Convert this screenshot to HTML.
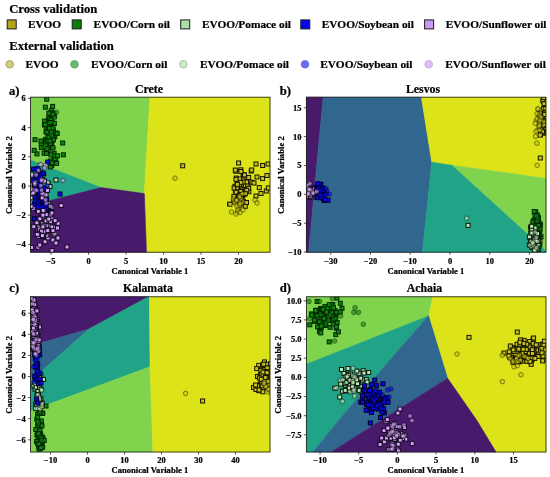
<!DOCTYPE html>
<html><head><meta charset="utf-8"><title>LDA decision regions</title>
<style>html,body{margin:0;padding:0;background:#fff}svg{display:block}text{fill:#000;stroke:#000;stroke-width:.22px}rect.s-evoo{fill:#c8c21a;stroke:#141400;stroke-width:1px}circle.c-evoo{fill:#c8c21a;stroke:#000;stroke-width:.7px;opacity:.62}rect.s-corn{fill:#0e860e;stroke:#032803;stroke-width:1px}circle.c-corn{fill:#0e860e;stroke:#000;stroke-width:.7px;opacity:.62}rect.s-pom{fill:#b6e8b2;stroke:#0a160a;stroke-width:1px}circle.c-pom{fill:#b6e8b2;stroke:#000;stroke-width:.7px;opacity:.62}rect.s-soy{fill:#0808f0;stroke:#000030;stroke-width:1px}circle.c-soy{fill:#0808f0;stroke:#000;stroke-width:.7px;opacity:.62}rect.s-sun{fill:#d3a2f8;stroke:#160a22;stroke-width:1px}circle.c-sun{fill:#d3a2f8;stroke:#000;stroke-width:.7px;opacity:.62}</style></head>
<body>
<svg width="550" height="477" viewBox="0 0 550 477" style="font-family:'Liberation Serif','DejaVu Serif',serif;font-weight:bold" fill="#111">
<rect width="550" height="477" fill="#fff"/>
<text x="9.2" y="12.7" font-size="12.7" text-anchor="start" >Cross validation</text>
<text x="9.2" y="50.1" font-size="12.7" text-anchor="start" >External validation</text>
<rect x="7.2" y="19.9" width="9" height="9" fill="#b3a41c" stroke="#1c1c1c" stroke-width="1"/>
<text x="28.0" y="28.2" font-size="11.35" text-anchor="start" >EVOO</text>
<rect x="72.2" y="19.9" width="9" height="9" fill="#0b7d0b" stroke="#1c1c1c" stroke-width="1"/>
<text x="93.6" y="28.2" font-size="11.35" text-anchor="start" >EVOO/Corn oil</text>
<rect x="180.7" y="19.9" width="9" height="9" fill="#a8e0a6" stroke="#1c1c1c" stroke-width="1"/>
<text x="202.0" y="28.2" font-size="11.35" text-anchor="start" >EVOO/Pomace oil</text>
<rect x="300.8" y="19.9" width="9" height="9" fill="#0505ee" stroke="#1c1c1c" stroke-width="1"/>
<text x="321.8" y="28.2" font-size="11.35" text-anchor="start" >EVOO/Soybean oil</text>
<rect x="424.6" y="19.9" width="9" height="9" fill="#cc99f4" stroke="#1c1c1c" stroke-width="1"/>
<text x="445.8" y="28.2" font-size="11.35" text-anchor="start" >EVOO/Sunflower oil</text>
<circle cx="9.7" cy="64.3" r="3.8" fill="#d2cc7c" stroke="#9a9660" stroke-width="0.8"/>
<text x="25.4" y="68.0" font-size="11.35" text-anchor="start" >EVOO</text>
<circle cx="74.5" cy="64.3" r="3.8" fill="#6cb86c" stroke="#5c9a5c" stroke-width="0.8"/>
<text x="91.0" y="68.0" font-size="11.35" text-anchor="start" >EVOO/Corn oil</text>
<circle cx="183.4" cy="64.3" r="3.8" fill="#cbe9c9" stroke="#9fb89f" stroke-width="0.8"/>
<text x="200.0" y="68.0" font-size="11.35" text-anchor="start" >EVOO/Pomace oil</text>
<circle cx="305.0" cy="64.3" r="3.8" fill="#6c6cf0" stroke="#6a6ae0" stroke-width="0.8"/>
<text x="320.3" y="68.0" font-size="11.35" text-anchor="start" >EVOO/Soybean oil</text>
<circle cx="428.7" cy="64.3" r="3.8" fill="#dcc0f6" stroke="#b7a3cc" stroke-width="0.8"/>
<text x="445.2" y="68.0" font-size="11.35" text-anchor="start" >EVOO/Sunflower oil</text>
<g>
<polygon points="30.5,97.2 150.0,97.2 144.3,193.6 101.0,187.6 30.5,160.0" fill="#80d34d" stroke="#80d34d" stroke-width="0.6" stroke-linejoin="round"/>
<polygon points="150.0,97.2 270.0,97.2 270.0,252.2 146.5,252.2 144.3,193.6" fill="#dce319" stroke="#dce319" stroke-width="0.6" stroke-linejoin="round"/>
<polygon points="30.5,160.0 101.0,187.6 30.5,205.5" fill="#20a386" stroke="#20a386" stroke-width="0.6" stroke-linejoin="round"/>
<polygon points="30.5,205.5 101.0,187.6 144.3,193.6 146.5,252.2 30.5,252.2" fill="#481a6c" stroke="#481a6c" stroke-width="0.6" stroke-linejoin="round"/>
</g>
<clipPath id="cp1"><rect x="30.5" y="97.2" width="239.5" height="155.0"/></clipPath>
<g clip-path="url(#cp1)">
<rect class="s-evoo" x="233.4" y="188.9" width="4.0" height="4.0"/>
<rect class="s-evoo" x="246.8" y="189.7" width="4.0" height="4.0"/>
<rect class="s-evoo" x="236.6" y="180.3" width="4.0" height="4.0"/>
<rect class="s-evoo" x="241.4" y="190.7" width="4.0" height="4.0"/>
<rect class="s-evoo" x="234.3" y="176.1" width="4.0" height="4.0"/>
<rect class="s-evoo" x="240.3" y="188.1" width="4.0" height="4.0"/>
<rect class="s-evoo" x="233.0" y="184.3" width="4.0" height="4.0"/>
<rect class="s-evoo" x="236.5" y="189.9" width="4.0" height="4.0"/>
<rect class="s-evoo" x="238.5" y="185.3" width="4.0" height="4.0"/>
<rect class="s-evoo" x="237.4" y="195.0" width="4.0" height="4.0"/>
<rect class="s-evoo" x="245.4" y="182.9" width="4.0" height="4.0"/>
<rect class="s-evoo" x="242.9" y="179.6" width="4.0" height="4.0"/>
<rect class="s-evoo" x="239.3" y="192.4" width="4.0" height="4.0"/>
<rect class="s-evoo" x="246.0" y="182.7" width="4.0" height="4.0"/>
<rect class="s-evoo" x="238.7" y="187.7" width="4.0" height="4.0"/>
<rect class="s-evoo" x="232.1" y="186.1" width="4.0" height="4.0"/>
<rect class="s-evoo" x="235.9" y="189.2" width="4.0" height="4.0"/>
<rect class="s-evoo" x="233.8" y="169.2" width="4.0" height="4.0"/>
<rect class="s-evoo" x="239.2" y="188.2" width="4.0" height="4.0"/>
<rect class="s-evoo" x="236.5" y="193.6" width="4.0" height="4.0"/>
<rect class="s-evoo" x="237.7" y="180.9" width="4.0" height="4.0"/>
<rect class="s-evoo" x="241.2" y="172.7" width="4.0" height="4.0"/>
<rect class="s-evoo" x="235.9" y="185.8" width="4.0" height="4.0"/>
<rect class="s-evoo" x="242.9" y="184.6" width="4.0" height="4.0"/>
<rect class="s-evoo" x="240.4" y="180.4" width="4.0" height="4.0"/>
<rect class="s-evoo" x="240.4" y="200.1" width="4.0" height="4.0"/>
<rect class="s-evoo" x="236.0" y="186.1" width="4.0" height="4.0"/>
<rect class="s-evoo" x="239.8" y="194.7" width="4.0" height="4.0"/>
<rect class="s-evoo" x="233.3" y="168.1" width="4.0" height="4.0"/>
<rect class="s-evoo" x="241.8" y="192.8" width="4.0" height="4.0"/>
<rect class="s-evoo" x="239.9" y="188.2" width="4.0" height="4.0"/>
<rect class="s-evoo" x="243.3" y="189.1" width="4.0" height="4.0"/>
<rect class="s-evoo" x="246.7" y="175.5" width="4.0" height="4.0"/>
<rect class="s-evoo" x="242.7" y="182.8" width="4.0" height="4.0"/>
<rect class="s-evoo" x="243.3" y="204.3" width="4.0" height="4.0"/>
<rect class="s-evoo" x="239.0" y="183.8" width="4.0" height="4.0"/>
<rect class="s-evoo" x="236.7" y="178.9" width="4.0" height="4.0"/>
<rect class="s-evoo" x="236.1" y="191.4" width="4.0" height="4.0"/>
<rect class="s-evoo" x="239.2" y="186.6" width="4.0" height="4.0"/>
<rect class="s-evoo" x="238.2" y="193.8" width="4.0" height="4.0"/>
<rect class="s-evoo" x="241.3" y="184.8" width="4.0" height="4.0"/>
<rect class="s-evoo" x="242.1" y="184.7" width="4.0" height="4.0"/>
<rect class="s-evoo" x="233.7" y="198.4" width="4.0" height="4.0"/>
<rect class="s-evoo" x="241.1" y="177.9" width="4.0" height="4.0"/>
<rect class="s-evoo" x="244.0" y="188.9" width="4.0" height="4.0"/>
<rect class="s-evoo" x="231.8" y="199.7" width="4.0" height="4.0"/>
<rect class="s-evoo" x="240.5" y="193.6" width="4.0" height="4.0"/>
<rect class="s-evoo" x="239.9" y="184.7" width="4.0" height="4.0"/>
<rect class="s-evoo" x="231.9" y="194.3" width="4.0" height="4.0"/>
<rect class="s-evoo" x="239.1" y="183.6" width="4.0" height="4.0"/>
<rect class="s-evoo" x="240.6" y="186.7" width="4.0" height="4.0"/>
<rect class="s-evoo" x="242.1" y="182.8" width="4.0" height="4.0"/>
<rect class="s-evoo" x="238.8" y="167.8" width="4.0" height="4.0"/>
<rect class="s-evoo" x="237.1" y="191.7" width="4.0" height="4.0"/>
<rect class="s-evoo" x="245.1" y="182.9" width="4.0" height="4.0"/>
<rect class="s-evoo" x="238.4" y="199.5" width="4.0" height="4.0"/>
<rect class="s-evoo" x="237.5" y="192.2" width="4.0" height="4.0"/>
<rect class="s-evoo" x="246.7" y="186.3" width="4.0" height="4.0"/>
<rect class="s-evoo" x="244.6" y="180.0" width="4.0" height="4.0"/>
<rect class="s-evoo" x="240.0" y="185.3" width="4.0" height="4.0"/>
<rect class="s-evoo" x="239.5" y="195.6" width="4.0" height="4.0"/>
<rect class="s-evoo" x="250.0" y="180.3" width="4.0" height="4.0"/>
<rect class="s-evoo" x="236.4" y="190.2" width="4.0" height="4.0"/>
<rect class="s-evoo" x="234.1" y="190.2" width="4.0" height="4.0"/>
<rect class="s-evoo" x="241.6" y="183.6" width="4.0" height="4.0"/>
<rect class="s-evoo" x="241.4" y="172.8" width="4.0" height="4.0"/>
<rect class="s-evoo" x="242.5" y="172.9" width="4.0" height="4.0"/>
<rect class="s-evoo" x="235.8" y="181.3" width="4.0" height="4.0"/>
<rect class="s-evoo" x="237.2" y="193.3" width="4.0" height="4.0"/>
<rect class="s-evoo" x="239.4" y="182.6" width="4.0" height="4.0"/>
<rect class="s-evoo" x="241.5" y="199.4" width="4.0" height="4.0"/>
<rect class="s-evoo" x="239.0" y="189.1" width="4.0" height="4.0"/>
<rect class="s-evoo" x="244.7" y="188.3" width="4.0" height="4.0"/>
<rect class="s-evoo" x="249.2" y="169.1" width="4.0" height="4.0"/>
<rect class="s-evoo" x="238.8" y="189.5" width="4.0" height="4.0"/>
<rect class="s-evoo" x="243.4" y="191.7" width="4.0" height="4.0"/>
<rect class="s-evoo" x="237.7" y="177.0" width="4.0" height="4.0"/>
<rect class="s-evoo" x="239.5" y="194.8" width="4.0" height="4.0"/>
<rect class="s-evoo" x="234.0" y="177.3" width="4.0" height="4.0"/>
<rect class="s-evoo" x="238.9" y="169.5" width="4.0" height="4.0"/>
<rect class="s-evoo" x="237.8" y="182.3" width="4.0" height="4.0"/>
<rect class="s-evoo" x="241.1" y="180.0" width="4.0" height="4.0"/>
<rect class="s-evoo" x="234.9" y="182.6" width="4.0" height="4.0"/>
<rect class="s-evoo" x="238.8" y="180.4" width="4.0" height="4.0"/>
<rect class="s-evoo" x="239.1" y="192.4" width="4.0" height="4.0"/>
<rect class="s-evoo" x="244.5" y="200.5" width="4.0" height="4.0"/>
<rect class="s-evoo" x="235.4" y="182.4" width="4.0" height="4.0"/>
<rect class="s-evoo" x="227.6" y="202.1" width="4.0" height="4.0"/>
<rect class="s-evoo" x="236.6" y="161.0" width="4.0" height="4.0"/>
<rect class="s-evoo" x="254.0" y="162.0" width="4.0" height="4.0"/>
<rect class="s-evoo" x="260.6" y="163.5" width="4.0" height="4.0"/>
<rect class="s-evoo" x="266.0" y="162.0" width="4.0" height="4.0"/>
<rect class="s-evoo" x="249.7" y="168.0" width="4.0" height="4.0"/>
<rect class="s-evoo" x="255.0" y="175.0" width="4.0" height="4.0"/>
<rect class="s-evoo" x="260.6" y="176.6" width="4.0" height="4.0"/>
<rect class="s-evoo" x="265.0" y="173.5" width="4.0" height="4.0"/>
<rect class="s-evoo" x="257.3" y="185.6" width="4.0" height="4.0"/>
<rect class="s-evoo" x="259.0" y="191.5" width="4.0" height="4.0"/>
<rect class="s-evoo" x="264.3" y="189.0" width="4.0" height="4.0"/>
<rect class="s-evoo" x="266.3" y="186.0" width="4.0" height="4.0"/>
<rect class="s-evoo" x="252.0" y="181.0" width="4.0" height="4.0"/>
<rect class="s-evoo" x="254.0" y="194.0" width="4.0" height="4.0"/>
<rect class="s-evoo" x="180.7" y="163.8" width="4.0" height="4.0"/>
<circle class="c-evoo" cx="235.1" cy="202.8" r="2.3"/>
<circle class="c-evoo" cx="240.1" cy="196.2" r="2.3"/>
<circle class="c-evoo" cx="239.9" cy="202.9" r="2.3"/>
<circle class="c-evoo" cx="230.7" cy="204.5" r="2.3"/>
<circle class="c-evoo" cx="242.8" cy="193.7" r="2.3"/>
<circle class="c-evoo" cx="241.2" cy="204.0" r="2.3"/>
<circle class="c-evoo" cx="239.9" cy="205.2" r="2.3"/>
<circle class="c-evoo" cx="243.2" cy="201.9" r="2.3"/>
<circle class="c-evoo" cx="241.5" cy="201.0" r="2.3"/>
<circle class="c-evoo" cx="240.9" cy="198.9" r="2.3"/>
<circle class="c-evoo" cx="237.6" cy="211.7" r="2.3"/>
<circle class="c-evoo" cx="239.8" cy="202.2" r="2.3"/>
<circle class="c-evoo" cx="233.4" cy="199.0" r="2.3"/>
<circle class="c-evoo" cx="238.8" cy="207.7" r="2.3"/>
<circle class="c-evoo" cx="239.7" cy="205.6" r="2.3"/>
<circle class="c-evoo" cx="237.8" cy="209.8" r="2.3"/>
<circle class="c-evoo" cx="236.4" cy="200.3" r="2.3"/>
<circle class="c-evoo" cx="241.6" cy="203.3" r="2.3"/>
<circle class="c-evoo" cx="236.9" cy="200.1" r="2.3"/>
<circle class="c-evoo" cx="237.0" cy="206.1" r="2.3"/>
<circle class="c-evoo" cx="239.4" cy="197.0" r="2.3"/>
<circle class="c-evoo" cx="239.7" cy="203.9" r="2.3"/>
<circle class="c-evoo" cx="255.0" cy="200.0" r="2.3"/>
<circle class="c-evoo" cx="257.0" cy="203.0" r="2.3"/>
<circle class="c-evoo" cx="231.5" cy="212.0" r="2.3"/>
<circle class="c-evoo" cx="236.0" cy="214.0" r="2.3"/>
<circle class="c-evoo" cx="240.0" cy="212.5" r="2.3"/>
<circle class="c-evoo" cx="243.0" cy="210.0" r="2.3"/>
<circle class="c-evoo" cx="175.0" cy="178.2" r="2.3"/>
<rect class="s-corn" x="47.5" y="133.4" width="4.0" height="4.0"/>
<rect class="s-corn" x="47.5" y="123.1" width="4.0" height="4.0"/>
<rect class="s-corn" x="45.5" y="124.3" width="4.0" height="4.0"/>
<rect class="s-corn" x="51.4" y="132.3" width="4.0" height="4.0"/>
<rect class="s-corn" x="51.2" y="130.1" width="4.0" height="4.0"/>
<rect class="s-corn" x="49.3" y="129.3" width="4.0" height="4.0"/>
<rect class="s-corn" x="43.4" y="137.7" width="4.0" height="4.0"/>
<rect class="s-corn" x="49.7" y="133.2" width="4.0" height="4.0"/>
<rect class="s-corn" x="43.3" y="105.2" width="4.0" height="4.0"/>
<rect class="s-corn" x="45.6" y="121.1" width="4.0" height="4.0"/>
<rect class="s-corn" x="49.1" y="126.4" width="4.0" height="4.0"/>
<rect class="s-corn" x="49.7" y="119.0" width="4.0" height="4.0"/>
<rect class="s-corn" x="49.1" y="131.9" width="4.0" height="4.0"/>
<rect class="s-corn" x="46.3" y="148.5" width="4.0" height="4.0"/>
<rect class="s-corn" x="49.8" y="142.0" width="4.0" height="4.0"/>
<rect class="s-corn" x="46.4" y="117.8" width="4.0" height="4.0"/>
<rect class="s-corn" x="47.2" y="125.7" width="4.0" height="4.0"/>
<rect class="s-corn" x="50.0" y="130.1" width="4.0" height="4.0"/>
<rect class="s-corn" x="46.9" y="115.0" width="4.0" height="4.0"/>
<rect class="s-corn" x="46.7" y="142.3" width="4.0" height="4.0"/>
<rect class="s-corn" x="45.9" y="130.1" width="4.0" height="4.0"/>
<rect class="s-corn" x="49.4" y="108.4" width="4.0" height="4.0"/>
<rect class="s-corn" x="48.3" y="143.3" width="4.0" height="4.0"/>
<rect class="s-corn" x="42.4" y="123.0" width="4.0" height="4.0"/>
<rect class="s-corn" x="47.9" y="116.8" width="4.0" height="4.0"/>
<rect class="s-corn" x="49.6" y="126.2" width="4.0" height="4.0"/>
<rect class="s-corn" x="44.0" y="137.3" width="4.0" height="4.0"/>
<rect class="s-corn" x="50.1" y="138.8" width="4.0" height="4.0"/>
<rect class="s-corn" x="52.4" y="131.5" width="4.0" height="4.0"/>
<rect class="s-corn" x="48.5" y="110.8" width="4.0" height="4.0"/>
<rect class="s-corn" x="50.0" y="119.4" width="4.0" height="4.0"/>
<rect class="s-corn" x="46.9" y="111.2" width="4.0" height="4.0"/>
<rect class="s-corn" x="45.4" y="120.4" width="4.0" height="4.0"/>
<rect class="s-corn" x="44.0" y="130.0" width="4.0" height="4.0"/>
<rect class="s-corn" x="52.4" y="134.2" width="4.0" height="4.0"/>
<rect class="s-corn" x="49.2" y="117.8" width="4.0" height="4.0"/>
<rect class="s-corn" x="45.0" y="139.2" width="4.0" height="4.0"/>
<rect class="s-corn" x="51.4" y="129.0" width="4.0" height="4.0"/>
<rect class="s-corn" x="48.9" y="132.4" width="4.0" height="4.0"/>
<rect class="s-corn" x="52.8" y="134.7" width="4.0" height="4.0"/>
<rect class="s-corn" x="49.7" y="133.8" width="4.0" height="4.0"/>
<rect class="s-corn" x="43.7" y="143.0" width="4.0" height="4.0"/>
<rect class="s-corn" x="51.0" y="133.6" width="4.0" height="4.0"/>
<rect class="s-corn" x="42.5" y="119.1" width="4.0" height="4.0"/>
<rect class="s-corn" x="50.6" y="104.4" width="4.0" height="4.0"/>
<rect class="s-corn" x="47.7" y="139.7" width="4.0" height="4.0"/>
<rect class="s-corn" x="44.4" y="147.1" width="4.0" height="4.0"/>
<rect class="s-corn" x="49.8" y="125.1" width="4.0" height="4.0"/>
<rect class="s-corn" x="49.1" y="135.1" width="4.0" height="4.0"/>
<rect class="s-corn" x="48.5" y="141.3" width="4.0" height="4.0"/>
<rect class="s-corn" x="46.3" y="121.8" width="4.0" height="4.0"/>
<rect class="s-corn" x="51.2" y="127.3" width="4.0" height="4.0"/>
<rect class="s-corn" x="45.6" y="138.8" width="4.0" height="4.0"/>
<rect class="s-corn" x="52.4" y="121.4" width="4.0" height="4.0"/>
<rect class="s-corn" x="44.2" y="125.3" width="4.0" height="4.0"/>
<rect class="s-corn" x="47.8" y="123.3" width="4.0" height="4.0"/>
<rect class="s-corn" x="52.3" y="114.2" width="4.0" height="4.0"/>
<rect class="s-corn" x="51.9" y="111.1" width="4.0" height="4.0"/>
<rect class="s-corn" x="45.9" y="134.9" width="4.0" height="4.0"/>
<rect class="s-corn" x="51.5" y="137.7" width="4.0" height="4.0"/>
<rect class="s-corn" x="49.2" y="128.8" width="4.0" height="4.0"/>
<rect class="s-corn" x="48.6" y="134.2" width="4.0" height="4.0"/>
<rect class="s-corn" x="47.7" y="130.5" width="4.0" height="4.0"/>
<rect class="s-corn" x="49.9" y="127.0" width="4.0" height="4.0"/>
<rect class="s-corn" x="50.4" y="134.1" width="4.0" height="4.0"/>
<rect class="s-corn" x="54.0" y="131.1" width="4.0" height="4.0"/>
<rect class="s-corn" x="47.0" y="122.3" width="4.0" height="4.0"/>
<rect class="s-corn" x="48.2" y="138.5" width="4.0" height="4.0"/>
<rect class="s-corn" x="47.2" y="131.8" width="4.0" height="4.0"/>
<rect class="s-corn" x="44.9" y="130.0" width="4.0" height="4.0"/>
<rect class="s-corn" x="49.4" y="130.0" width="4.0" height="4.0"/>
<rect class="s-corn" x="46.9" y="135.2" width="4.0" height="4.0"/>
<rect class="s-corn" x="49.0" y="120.5" width="4.0" height="4.0"/>
<rect class="s-corn" x="55.2" y="131.4" width="4.0" height="4.0"/>
<rect class="s-corn" x="46.6" y="125.8" width="4.0" height="4.0"/>
<rect class="s-corn" x="47.5" y="126.2" width="4.0" height="4.0"/>
<rect class="s-corn" x="51.1" y="112.4" width="4.0" height="4.0"/>
<rect class="s-corn" x="48.0" y="138.9" width="4.0" height="4.0"/>
<rect class="s-corn" x="50.7" y="145.6" width="4.0" height="4.0"/>
<rect class="s-corn" x="43.3" y="122.6" width="4.0" height="4.0"/>
<rect class="s-corn" x="35.0" y="151.9" width="4.0" height="4.0"/>
<rect class="s-corn" x="39.3" y="142.0" width="4.0" height="4.0"/>
<rect class="s-corn" x="39.3" y="145.7" width="4.0" height="4.0"/>
<rect class="s-corn" x="52.1" y="151.3" width="4.0" height="4.0"/>
<rect class="s-corn" x="49.8" y="163.4" width="4.0" height="4.0"/>
<rect class="s-corn" x="48.3" y="158.9" width="4.0" height="4.0"/>
<rect class="s-corn" x="52.6" y="158.6" width="4.0" height="4.0"/>
<rect class="s-corn" x="48.6" y="164.9" width="4.0" height="4.0"/>
<rect class="s-corn" x="53.7" y="156.7" width="4.0" height="4.0"/>
<rect class="s-corn" x="61.4" y="152.8" width="4.0" height="4.0"/>
<rect class="s-corn" x="53.1" y="156.8" width="4.0" height="4.0"/>
<rect class="s-corn" x="49.6" y="161.2" width="4.0" height="4.0"/>
<rect class="s-corn" x="50.0" y="160.9" width="4.0" height="4.0"/>
<rect class="s-corn" x="42.1" y="151.2" width="4.0" height="4.0"/>
<rect class="s-corn" x="51.8" y="153.7" width="4.0" height="4.0"/>
<rect class="s-corn" x="44.4" y="151.4" width="4.0" height="4.0"/>
<rect class="s-corn" x="54.7" y="161.4" width="4.0" height="4.0"/>
<rect class="s-corn" x="55.6" y="153.8" width="4.0" height="4.0"/>
<rect class="s-corn" x="49.0" y="152.9" width="4.0" height="4.0"/>
<rect class="s-corn" x="44.7" y="97.2" width="4.0" height="4.0"/>
<rect class="s-corn" x="60.7" y="141.0" width="4.0" height="4.0"/>
<rect class="s-corn" x="33.0" y="137.7" width="4.0" height="4.0"/>
<rect class="s-corn" x="32.2" y="148.3" width="4.0" height="4.0"/>
<rect class="s-corn" x="39.0" y="139.0" width="4.0" height="4.0"/>
<circle class="c-corn" cx="56.5" cy="112.3" r="2.3"/>
<circle class="c-corn" cx="52.3" cy="149.1" r="2.3"/>
<circle class="c-corn" cx="47.3" cy="148.7" r="2.3"/>
<circle class="c-corn" cx="53.0" cy="127.9" r="2.3"/>
<circle class="c-corn" cx="44.1" cy="146.9" r="2.3"/>
<circle class="c-corn" cx="49.7" cy="122.8" r="2.3"/>
<circle class="c-corn" cx="51.2" cy="134.9" r="2.3"/>
<circle class="c-corn" cx="54.5" cy="117.8" r="2.3"/>
<circle class="c-corn" cx="53.4" cy="147.8" r="2.3"/>
<rect class="s-pom" x="46.3" y="182.0" width="4.0" height="4.0"/>
<rect class="s-pom" x="35.3" y="195.2" width="4.0" height="4.0"/>
<rect class="s-pom" x="39.6" y="185.4" width="4.0" height="4.0"/>
<rect class="s-pom" x="46.1" y="181.1" width="4.0" height="4.0"/>
<rect class="s-pom" x="29.7" y="193.0" width="4.0" height="4.0"/>
<rect class="s-pom" x="40.6" y="177.3" width="4.0" height="4.0"/>
<rect class="s-pom" x="39.0" y="193.2" width="4.0" height="4.0"/>
<rect class="s-pom" x="39.4" y="198.6" width="4.0" height="4.0"/>
<rect class="s-pom" x="38.7" y="195.4" width="4.0" height="4.0"/>
<rect class="s-pom" x="46.5" y="201.7" width="4.0" height="4.0"/>
<rect class="s-pom" x="35.6" y="193.7" width="4.0" height="4.0"/>
<rect class="s-pom" x="29.6" y="172.1" width="4.0" height="4.0"/>
<rect class="s-pom" x="29.2" y="195.8" width="4.0" height="4.0"/>
<rect class="s-pom" x="32.8" y="183.9" width="4.0" height="4.0"/>
<rect class="s-pom" x="38.0" y="183.7" width="4.0" height="4.0"/>
<rect class="s-pom" x="36.0" y="186.6" width="4.0" height="4.0"/>
<rect class="s-pom" x="48.0" y="184.5" width="4.0" height="4.0"/>
<rect class="s-pom" x="41.7" y="195.0" width="4.0" height="4.0"/>
<rect class="s-pom" x="38.0" y="170.1" width="4.0" height="4.0"/>
<rect class="s-pom" x="36.2" y="195.8" width="4.0" height="4.0"/>
<rect class="s-pom" x="30.8" y="177.4" width="4.0" height="4.0"/>
<rect class="s-pom" x="44.0" y="192.7" width="4.0" height="4.0"/>
<rect class="s-pom" x="54.0" y="178.0" width="4.0" height="4.0"/>
<circle class="c-pom" cx="43.0" cy="200.5" r="2.3"/>
<circle class="c-pom" cx="43.8" cy="174.7" r="2.3"/>
<circle class="c-pom" cx="35.2" cy="181.7" r="2.3"/>
<circle class="c-pom" cx="47.6" cy="182.6" r="2.3"/>
<circle class="c-pom" cx="38.5" cy="180.0" r="2.3"/>
<circle class="c-pom" cx="35.3" cy="188.5" r="2.3"/>
<circle class="c-pom" cx="37.1" cy="194.7" r="2.3"/>
<circle class="c-pom" cx="31.2" cy="194.3" r="2.3"/>
<circle class="c-pom" cx="39.8" cy="164.8" r="2.3"/>
<circle class="c-pom" cx="46.6" cy="186.4" r="2.3"/>
<circle class="c-pom" cx="54.7" cy="233.8" r="2.3"/>
<circle class="c-pom" cx="51.6" cy="208.0" r="2.3"/>
<rect class="s-soy" x="38.3" y="182.2" width="4.0" height="4.0"/>
<rect class="s-soy" x="40.5" y="202.7" width="4.0" height="4.0"/>
<rect class="s-soy" x="40.0" y="195.6" width="4.0" height="4.0"/>
<rect class="s-soy" x="43.0" y="201.2" width="4.0" height="4.0"/>
<rect class="s-soy" x="41.0" y="212.3" width="4.0" height="4.0"/>
<rect class="s-soy" x="35.7" y="182.0" width="4.0" height="4.0"/>
<rect class="s-soy" x="45.7" y="160.1" width="4.0" height="4.0"/>
<rect class="s-soy" x="39.1" y="231.2" width="4.0" height="4.0"/>
<rect class="s-soy" x="32.8" y="201.7" width="4.0" height="4.0"/>
<rect class="s-soy" x="45.5" y="188.0" width="4.0" height="4.0"/>
<rect class="s-soy" x="39.5" y="205.3" width="4.0" height="4.0"/>
<rect class="s-soy" x="32.9" y="188.5" width="4.0" height="4.0"/>
<rect class="s-soy" x="38.3" y="204.0" width="4.0" height="4.0"/>
<rect class="s-soy" x="36.8" y="186.7" width="4.0" height="4.0"/>
<rect class="s-soy" x="32.4" y="183.9" width="4.0" height="4.0"/>
<rect class="s-soy" x="41.0" y="191.7" width="4.0" height="4.0"/>
<rect class="s-soy" x="33.2" y="175.7" width="4.0" height="4.0"/>
<rect class="s-soy" x="49.0" y="209.4" width="4.0" height="4.0"/>
<rect class="s-soy" x="39.8" y="198.2" width="4.0" height="4.0"/>
<rect class="s-soy" x="44.6" y="197.3" width="4.0" height="4.0"/>
<rect class="s-soy" x="36.7" y="198.9" width="4.0" height="4.0"/>
<rect class="s-soy" x="38.5" y="178.1" width="4.0" height="4.0"/>
<rect class="s-soy" x="43.0" y="220.8" width="4.0" height="4.0"/>
<rect class="s-soy" x="30.7" y="178.7" width="4.0" height="4.0"/>
<rect class="s-soy" x="38.3" y="193.1" width="4.0" height="4.0"/>
<rect class="s-soy" x="35.2" y="173.4" width="4.0" height="4.0"/>
<rect class="s-soy" x="46.5" y="207.6" width="4.0" height="4.0"/>
<rect class="s-soy" x="31.6" y="167.1" width="4.0" height="4.0"/>
<rect class="s-soy" x="44.7" y="206.8" width="4.0" height="4.0"/>
<rect class="s-soy" x="45.2" y="203.8" width="4.0" height="4.0"/>
<rect class="s-soy" x="33.1" y="194.4" width="4.0" height="4.0"/>
<rect class="s-soy" x="36.7" y="198.9" width="4.0" height="4.0"/>
<rect class="s-soy" x="33.7" y="187.9" width="4.0" height="4.0"/>
<rect class="s-soy" x="39.1" y="196.4" width="4.0" height="4.0"/>
<rect class="s-soy" x="39.9" y="193.6" width="4.0" height="4.0"/>
<rect class="s-soy" x="35.5" y="203.4" width="4.0" height="4.0"/>
<rect class="s-soy" x="37.2" y="176.0" width="4.0" height="4.0"/>
<rect class="s-soy" x="34.2" y="190.0" width="4.0" height="4.0"/>
<rect class="s-soy" x="36.5" y="192.7" width="4.0" height="4.0"/>
<rect class="s-soy" x="37.0" y="193.0" width="4.0" height="4.0"/>
<rect class="s-soy" x="36.4" y="168.6" width="4.0" height="4.0"/>
<rect class="s-soy" x="38.9" y="207.9" width="4.0" height="4.0"/>
<rect class="s-soy" x="39.0" y="186.8" width="4.0" height="4.0"/>
<rect class="s-soy" x="39.0" y="173.6" width="4.0" height="4.0"/>
<rect class="s-soy" x="32.8" y="202.6" width="4.0" height="4.0"/>
<rect class="s-soy" x="32.3" y="216.8" width="4.0" height="4.0"/>
<rect class="s-soy" x="35.3" y="166.7" width="4.0" height="4.0"/>
<rect class="s-soy" x="33.6" y="198.9" width="4.0" height="4.0"/>
<rect class="s-soy" x="39.2" y="193.0" width="4.0" height="4.0"/>
<rect class="s-soy" x="43.7" y="202.0" width="4.0" height="4.0"/>
<rect class="s-soy" x="36.9" y="200.1" width="4.0" height="4.0"/>
<rect class="s-soy" x="44.4" y="206.5" width="4.0" height="4.0"/>
<rect class="s-soy" x="41.6" y="171.6" width="4.0" height="4.0"/>
<rect class="s-soy" x="36.3" y="202.4" width="4.0" height="4.0"/>
<rect class="s-soy" x="35.7" y="208.2" width="4.0" height="4.0"/>
<rect class="s-soy" x="39.7" y="205.4" width="4.0" height="4.0"/>
<rect class="s-soy" x="36.0" y="233.3" width="4.0" height="4.0"/>
<rect class="s-soy" x="42.6" y="186.3" width="4.0" height="4.0"/>
<rect class="s-soy" x="37.4" y="234.1" width="4.0" height="4.0"/>
<rect class="s-soy" x="35.5" y="204.9" width="4.0" height="4.0"/>
<rect class="s-soy" x="58.0" y="192.0" width="4.0" height="4.0"/>
<circle class="c-soy" cx="46.9" cy="205.1" r="2.3"/>
<circle class="c-soy" cx="38.3" cy="209.1" r="2.3"/>
<circle class="c-soy" cx="44.4" cy="229.9" r="2.3"/>
<circle class="c-soy" cx="46.1" cy="205.5" r="2.3"/>
<circle class="c-soy" cx="46.4" cy="216.9" r="2.3"/>
<circle class="c-soy" cx="43.8" cy="206.2" r="2.3"/>
<circle class="c-soy" cx="42.0" cy="220.1" r="2.3"/>
<circle class="c-soy" cx="38.8" cy="191.2" r="2.3"/>
<circle class="c-soy" cx="43.0" cy="172.8" r="2.3"/>
<circle class="c-soy" cx="40.3" cy="217.5" r="2.3"/>
<circle class="c-soy" cx="45.3" cy="203.8" r="2.3"/>
<circle class="c-soy" cx="42.1" cy="173.8" r="2.3"/>
<circle class="c-soy" cx="50.3" cy="216.4" r="2.3"/>
<circle class="c-soy" cx="47.4" cy="185.6" r="2.3"/>
<rect class="s-sun" x="42.0" y="209.2" width="4.0" height="4.0"/>
<rect class="s-sun" x="39.4" y="221.4" width="4.0" height="4.0"/>
<rect class="s-sun" x="44.0" y="232.0" width="4.0" height="4.0"/>
<rect class="s-sun" x="40.8" y="215.2" width="4.0" height="4.0"/>
<rect class="s-sun" x="40.1" y="224.2" width="4.0" height="4.0"/>
<rect class="s-sun" x="45.8" y="228.4" width="4.0" height="4.0"/>
<rect class="s-sun" x="36.3" y="209.4" width="4.0" height="4.0"/>
<rect class="s-sun" x="38.6" y="216.5" width="4.0" height="4.0"/>
<rect class="s-sun" x="33.8" y="223.7" width="4.0" height="4.0"/>
<rect class="s-sun" x="37.8" y="226.2" width="4.0" height="4.0"/>
<rect class="s-sun" x="44.4" y="220.3" width="4.0" height="4.0"/>
<rect class="s-sun" x="56.1" y="221.3" width="4.0" height="4.0"/>
<rect class="s-sun" x="48.2" y="226.4" width="4.0" height="4.0"/>
<rect class="s-sun" x="36.1" y="227.8" width="4.0" height="4.0"/>
<rect class="s-sun" x="43.1" y="239.7" width="4.0" height="4.0"/>
<rect class="s-sun" x="46.0" y="235.9" width="4.0" height="4.0"/>
<rect class="s-sun" x="44.3" y="223.2" width="4.0" height="4.0"/>
<rect class="s-sun" x="44.3" y="212.6" width="4.0" height="4.0"/>
<rect class="s-sun" x="48.7" y="213.3" width="4.0" height="4.0"/>
<rect class="s-sun" x="39.5" y="225.2" width="4.0" height="4.0"/>
<rect class="s-sun" x="48.6" y="225.3" width="4.0" height="4.0"/>
<rect class="s-sun" x="35.8" y="228.0" width="4.0" height="4.0"/>
<rect class="s-sun" x="44.8" y="233.2" width="4.0" height="4.0"/>
<rect class="s-sun" x="36.0" y="245.2" width="4.0" height="4.0"/>
<rect class="s-sun" x="51.8" y="225.2" width="4.0" height="4.0"/>
<rect class="s-sun" x="42.7" y="220.1" width="4.0" height="4.0"/>
<rect class="s-sun" x="50.2" y="216.9" width="4.0" height="4.0"/>
<rect class="s-sun" x="45.4" y="219.5" width="4.0" height="4.0"/>
<rect class="s-sun" x="36.5" y="233.3" width="4.0" height="4.0"/>
<rect class="s-sun" x="49.7" y="224.9" width="4.0" height="4.0"/>
<rect class="s-sun" x="36.6" y="234.3" width="4.0" height="4.0"/>
<rect class="s-sun" x="40.7" y="228.6" width="4.0" height="4.0"/>
<rect class="s-sun" x="50.9" y="238.0" width="4.0" height="4.0"/>
<rect class="s-sun" x="41.0" y="234.0" width="4.0" height="4.0"/>
<rect class="s-sun" x="36.8" y="224.5" width="4.0" height="4.0"/>
<rect class="s-sun" x="29.6" y="245.5" width="4.0" height="4.0"/>
<rect class="s-sun" x="49.9" y="211.0" width="4.0" height="4.0"/>
<rect class="s-sun" x="31.2" y="206.4" width="4.0" height="4.0"/>
<rect class="s-sun" x="48.6" y="219.7" width="4.0" height="4.0"/>
<rect class="s-sun" x="40.6" y="221.4" width="4.0" height="4.0"/>
<rect class="s-sun" x="40.2" y="212.5" width="4.0" height="4.0"/>
<rect class="s-sun" x="41.2" y="208.5" width="4.0" height="4.0"/>
<rect class="s-sun" x="40.5" y="228.6" width="4.0" height="4.0"/>
<rect class="s-sun" x="44.0" y="222.3" width="4.0" height="4.0"/>
<rect class="s-sun" x="35.1" y="226.8" width="4.0" height="4.0"/>
<rect class="s-sun" x="37.8" y="243.0" width="4.0" height="4.0"/>
<rect class="s-sun" x="46.0" y="223.7" width="4.0" height="4.0"/>
<rect class="s-sun" x="37.9" y="216.9" width="4.0" height="4.0"/>
<rect class="s-sun" x="34.9" y="220.9" width="4.0" height="4.0"/>
<rect class="s-sun" x="42.9" y="230.9" width="4.0" height="4.0"/>
<rect class="s-sun" x="36.4" y="225.1" width="4.0" height="4.0"/>
<rect class="s-sun" x="59.2" y="203.5" width="4.0" height="4.0"/>
<rect class="s-sun" x="37.6" y="227.0" width="4.0" height="4.0"/>
<rect class="s-sun" x="42.0" y="229.7" width="4.0" height="4.0"/>
<rect class="s-sun" x="39.4" y="229.2" width="4.0" height="4.0"/>
<rect class="s-sun" x="41.3" y="233.9" width="4.0" height="4.0"/>
<rect class="s-sun" x="41.0" y="213.1" width="4.0" height="4.0"/>
<rect class="s-sun" x="34.2" y="232.2" width="4.0" height="4.0"/>
<rect class="s-sun" x="36.8" y="232.3" width="4.0" height="4.0"/>
<rect class="s-sun" x="45.8" y="228.5" width="4.0" height="4.0"/>
<rect class="s-sun" x="44.3" y="223.8" width="4.0" height="4.0"/>
<rect class="s-sun" x="31.8" y="224.7" width="4.0" height="4.0"/>
<rect class="s-sun" x="44.0" y="218.9" width="4.0" height="4.0"/>
<rect class="s-sun" x="40.4" y="233.6" width="4.0" height="4.0"/>
<rect class="s-sun" x="35.3" y="232.4" width="4.0" height="4.0"/>
<rect class="s-sun" x="53.1" y="218.6" width="4.0" height="4.0"/>
<rect class="s-sun" x="42.0" y="223.3" width="4.0" height="4.0"/>
<rect class="s-sun" x="51.0" y="228.6" width="4.0" height="4.0"/>
<rect class="s-sun" x="46.8" y="217.1" width="4.0" height="4.0"/>
<rect class="s-sun" x="40.9" y="224.9" width="4.0" height="4.0"/>
<rect class="s-sun" x="29.1" y="204.5" width="4.0" height="4.0"/>
<rect class="s-sun" x="42.5" y="179.0" width="4.0" height="4.0"/>
<rect class="s-sun" x="41.7" y="192.0" width="4.0" height="4.0"/>
<rect class="s-sun" x="40.2" y="195.9" width="4.0" height="4.0"/>
<rect class="s-sun" x="30.5" y="191.3" width="4.0" height="4.0"/>
<rect class="s-sun" x="45.5" y="188.4" width="4.0" height="4.0"/>
<rect class="s-sun" x="32.9" y="182.1" width="4.0" height="4.0"/>
<rect class="s-sun" x="65.0" y="245.0" width="4.0" height="4.0"/>
<rect class="s-sun" x="50.0" y="248.5" width="4.0" height="4.0"/>
<rect class="s-sun" x="56.0" y="236.0" width="4.0" height="4.0"/>
<rect class="s-sun" x="55.5" y="226.0" width="4.0" height="4.0"/>
<rect class="s-sun" x="54.0" y="241.0" width="4.0" height="4.0"/>
<circle class="c-sun" cx="41.0" cy="164.5" r="2.3"/>
<circle class="c-sun" cx="46.3" cy="203.1" r="2.3"/>
<circle class="c-sun" cx="31.6" cy="189.3" r="2.3"/>
<circle class="c-sun" cx="45.5" cy="165.3" r="2.3"/>
<circle class="c-sun" cx="32.0" cy="175.1" r="2.3"/>
<circle class="c-sun" cx="38.5" cy="170.4" r="2.3"/>
<circle class="c-sun" cx="42.2" cy="193.5" r="2.3"/>
<circle class="c-sun" cx="45.5" cy="199.8" r="2.3"/>
<circle class="c-sun" cx="50.3" cy="206.3" r="2.3"/>
<circle class="c-sun" cx="34.8" cy="182.9" r="2.3"/>
<circle class="c-sun" cx="36.2" cy="174.9" r="2.3"/>
<circle class="c-sun" cx="41.6" cy="190.1" r="2.3"/>
<circle class="c-sun" cx="44.7" cy="167.8" r="2.3"/>
<circle class="c-sun" cx="35.2" cy="189.7" r="2.3"/>
<circle class="c-sun" cx="40.9" cy="185.6" r="2.3"/>
<circle class="c-sun" cx="41.7" cy="179.4" r="2.3"/>
<circle class="c-sun" cx="45.9" cy="195.0" r="2.3"/>
<circle class="c-sun" cx="41.5" cy="180.6" r="2.3"/>
<circle class="c-sun" cx="36.6" cy="190.5" r="2.3"/>
<circle class="c-sun" cx="33.7" cy="192.8" r="2.3"/>
<circle class="c-sun" cx="63.0" cy="180.5" r="2.3"/>
</g>
<rect x="30.5" y="97.2" width="239.5" height="155.0" fill="none" stroke="#1a1a1a" stroke-width="0.8"/>
<line x1="51.0" y1="252.2" x2="51.0" y2="254.8" stroke="#1a1a1a" stroke-width="0.7"/>
<text x="51.0" y="263.6" font-size="8.5" text-anchor="middle" >−5</text>
<line x1="88.5" y1="252.2" x2="88.5" y2="254.8" stroke="#1a1a1a" stroke-width="0.7"/>
<text x="88.5" y="263.6" font-size="8.5" text-anchor="middle" >0</text>
<line x1="126.0" y1="252.2" x2="126.0" y2="254.8" stroke="#1a1a1a" stroke-width="0.7"/>
<text x="126.0" y="263.6" font-size="8.5" text-anchor="middle" >5</text>
<line x1="163.5" y1="252.2" x2="163.5" y2="254.8" stroke="#1a1a1a" stroke-width="0.7"/>
<text x="163.5" y="263.6" font-size="8.5" text-anchor="middle" >10</text>
<line x1="201.0" y1="252.2" x2="201.0" y2="254.8" stroke="#1a1a1a" stroke-width="0.7"/>
<text x="201.0" y="263.6" font-size="8.5" text-anchor="middle" >15</text>
<line x1="238.5" y1="252.2" x2="238.5" y2="254.8" stroke="#1a1a1a" stroke-width="0.7"/>
<text x="238.5" y="263.6" font-size="8.5" text-anchor="middle" >20</text>
<line x1="27.9" y1="244.4" x2="30.5" y2="244.4" stroke="#1a1a1a" stroke-width="0.7"/>
<text x="25.7" y="247.3" font-size="8.5" text-anchor="end" >−4</text>
<line x1="27.9" y1="215.2" x2="30.5" y2="215.2" stroke="#1a1a1a" stroke-width="0.7"/>
<text x="25.7" y="218.1" font-size="8.5" text-anchor="end" >−2</text>
<line x1="27.9" y1="186.0" x2="30.5" y2="186.0" stroke="#1a1a1a" stroke-width="0.7"/>
<text x="25.7" y="188.9" font-size="8.5" text-anchor="end" >0</text>
<line x1="27.9" y1="156.8" x2="30.5" y2="156.8" stroke="#1a1a1a" stroke-width="0.7"/>
<text x="25.7" y="159.7" font-size="8.5" text-anchor="end" >2</text>
<line x1="27.9" y1="127.6" x2="30.5" y2="127.6" stroke="#1a1a1a" stroke-width="0.7"/>
<text x="25.7" y="130.5" font-size="8.5" text-anchor="end" >4</text>
<line x1="27.9" y1="98.4" x2="30.5" y2="98.4" stroke="#1a1a1a" stroke-width="0.7"/>
<text x="25.7" y="101.3" font-size="8.5" text-anchor="end" >6</text>
<text x="149.9" y="274.0" font-size="8.6" text-anchor="middle" >Canonical Variable 1</text>
<text transform="translate(12.0,175.1) rotate(-90)" font-size="8.7" text-anchor="middle">Canonical Variable 2</text>
<text x="149.0" y="93.0" font-size="11.8" text-anchor="middle" >Crete</text>
<text x="8.9" y="95.1" font-size="12.7" text-anchor="start" >a)</text>
<polygon points="306.4,97.2 323.2,97.2 308.6,252.2 306.4,252.2" fill="#481a6c" stroke="#481a6c" stroke-width="0.6" stroke-linejoin="round"/>
<polygon points="323.2,97.2 421.4,97.2 431.8,162.2 422.5,252.2 308.6,252.2" fill="#31668e" stroke="#31668e" stroke-width="0.6" stroke-linejoin="round"/>
<polygon points="421.4,97.2 546.0,97.2 546.0,178.4 451.8,165.3 431.8,162.2" fill="#dce319" stroke="#dce319" stroke-width="0.6" stroke-linejoin="round"/>
<polygon points="451.8,165.3 546.0,178.4 546.0,251.0" fill="#80d34d" stroke="#80d34d" stroke-width="0.6" stroke-linejoin="round"/>
<polygon points="431.8,162.2 451.8,165.3 546.0,251.0 546.0,252.2 422.5,252.2" fill="#20a386" stroke="#20a386" stroke-width="0.6" stroke-linejoin="round"/>
<clipPath id="cp2"><rect x="306.4" y="97.2" width="239.6" height="155.0"/></clipPath>
<g clip-path="url(#cp2)">
<rect class="s-evoo" x="540.4" y="120.8" width="4.0" height="4.0"/>
<rect class="s-evoo" x="541.4" y="110.0" width="4.0" height="4.0"/>
<rect class="s-evoo" x="543.0" y="128.9" width="4.0" height="4.0"/>
<rect class="s-evoo" x="545.2" y="125.4" width="4.0" height="4.0"/>
<rect class="s-evoo" x="542.7" y="116.0" width="4.0" height="4.0"/>
<rect class="s-evoo" x="545.0" y="129.7" width="4.0" height="4.0"/>
<rect class="s-evoo" x="542.1" y="119.0" width="4.0" height="4.0"/>
<rect class="s-evoo" x="542.9" y="114.6" width="4.0" height="4.0"/>
<rect class="s-evoo" x="541.8" y="99.4" width="4.0" height="4.0"/>
<rect class="s-evoo" x="541.8" y="97.0" width="4.0" height="4.0"/>
<rect class="s-evoo" x="544.2" y="119.9" width="4.0" height="4.0"/>
<rect class="s-evoo" x="540.8" y="129.4" width="4.0" height="4.0"/>
<rect class="s-evoo" x="545.1" y="122.9" width="4.0" height="4.0"/>
<rect class="s-evoo" x="545.4" y="100.5" width="4.0" height="4.0"/>
<rect class="s-evoo" x="543.2" y="118.7" width="4.0" height="4.0"/>
<rect class="s-evoo" x="542.8" y="115.9" width="4.0" height="4.0"/>
<rect class="s-evoo" x="544.0" y="97.6" width="4.0" height="4.0"/>
<rect class="s-evoo" x="540.8" y="98.7" width="4.0" height="4.0"/>
<rect class="s-evoo" x="541.7" y="107.3" width="4.0" height="4.0"/>
<rect class="s-evoo" x="543.0" y="116.9" width="4.0" height="4.0"/>
<rect class="s-evoo" x="542.5" y="106.6" width="4.0" height="4.0"/>
<rect class="s-evoo" x="541.9" y="124.5" width="4.0" height="4.0"/>
<rect class="s-evoo" x="543.6" y="115.1" width="4.0" height="4.0"/>
<rect class="s-evoo" x="542.0" y="131.1" width="4.0" height="4.0"/>
<rect class="s-evoo" x="541.7" y="121.1" width="4.0" height="4.0"/>
<rect class="s-evoo" x="544.1" y="111.1" width="4.0" height="4.0"/>
<rect class="s-evoo" x="543.7" y="101.7" width="4.0" height="4.0"/>
<rect class="s-evoo" x="543.9" y="116.2" width="4.0" height="4.0"/>
<rect class="s-evoo" x="540.3" y="121.4" width="4.0" height="4.0"/>
<rect class="s-evoo" x="541.3" y="128.1" width="4.0" height="4.0"/>
<rect class="s-evoo" x="541.5" y="112.2" width="4.0" height="4.0"/>
<rect class="s-evoo" x="542.9" y="110.3" width="4.0" height="4.0"/>
<rect class="s-evoo" x="542.9" y="107.9" width="4.0" height="4.0"/>
<rect class="s-evoo" x="543.4" y="114.1" width="4.0" height="4.0"/>
<rect class="s-evoo" x="544.1" y="114.4" width="4.0" height="4.0"/>
<rect class="s-evoo" x="540.0" y="115.1" width="4.0" height="4.0"/>
<rect class="s-evoo" x="543.2" y="125.8" width="4.0" height="4.0"/>
<rect class="s-evoo" x="541.0" y="131.0" width="4.0" height="4.0"/>
<rect class="s-evoo" x="542.3" y="121.5" width="4.0" height="4.0"/>
<rect class="s-evoo" x="542.0" y="101.7" width="4.0" height="4.0"/>
<rect class="s-evoo" x="544.0" y="124.0" width="4.0" height="4.0"/>
<rect class="s-evoo" x="544.7" y="123.4" width="4.0" height="4.0"/>
<rect class="s-evoo" x="541.7" y="95.7" width="4.0" height="4.0"/>
<rect class="s-evoo" x="541.6" y="106.6" width="4.0" height="4.0"/>
<rect class="s-evoo" x="541.4" y="120.4" width="4.0" height="4.0"/>
<rect class="s-evoo" x="543.0" y="111.0" width="4.0" height="4.0"/>
<rect class="s-evoo" x="542.7" y="112.4" width="4.0" height="4.0"/>
<rect class="s-evoo" x="542.8" y="122.3" width="4.0" height="4.0"/>
<rect class="s-evoo" x="543.8" y="106.5" width="4.0" height="4.0"/>
<rect class="s-evoo" x="540.4" y="129.7" width="4.0" height="4.0"/>
<rect class="s-evoo" x="538.3" y="156.0" width="4.0" height="4.0"/>
<rect class="s-evoo" x="538.5" y="133.0" width="4.0" height="4.0"/>
<circle class="c-evoo" cx="543.2" cy="125.0" r="2.3"/>
<circle class="c-evoo" cx="542.4" cy="121.6" r="2.3"/>
<circle class="c-evoo" cx="540.7" cy="119.7" r="2.3"/>
<circle class="c-evoo" cx="540.5" cy="129.5" r="2.3"/>
<circle class="c-evoo" cx="536.2" cy="120.6" r="2.3"/>
<circle class="c-evoo" cx="540.1" cy="117.3" r="2.3"/>
<circle class="c-evoo" cx="538.8" cy="126.1" r="2.3"/>
<circle class="c-evoo" cx="540.3" cy="110.9" r="2.3"/>
<circle class="c-evoo" cx="543.9" cy="121.5" r="2.3"/>
<circle class="c-evoo" cx="539.4" cy="113.7" r="2.3"/>
<circle class="c-evoo" cx="539.4" cy="113.9" r="2.3"/>
<circle class="c-evoo" cx="539.7" cy="124.0" r="2.3"/>
<circle class="c-evoo" cx="539.6" cy="122.8" r="2.3"/>
<circle class="c-evoo" cx="537.5" cy="130.3" r="2.3"/>
<circle class="c-evoo" cx="538.0" cy="109.2" r="2.3"/>
<circle class="c-evoo" cx="539.1" cy="116.0" r="2.3"/>
<circle class="c-evoo" cx="537.2" cy="118.7" r="2.3"/>
<circle class="c-evoo" cx="540.2" cy="113.3" r="2.3"/>
<circle class="c-evoo" cx="539.2" cy="130.3" r="2.3"/>
<circle class="c-evoo" cx="541.1" cy="120.0" r="2.3"/>
<circle class="c-evoo" cx="539.8" cy="120.2" r="2.3"/>
<circle class="c-evoo" cx="539.4" cy="125.8" r="2.3"/>
<circle class="c-evoo" cx="539.5" cy="115.2" r="2.3"/>
<circle class="c-evoo" cx="541.0" cy="117.0" r="2.3"/>
<circle class="c-evoo" cx="539.8" cy="135.2" r="2.3"/>
<circle class="c-evoo" cx="537.1" cy="113.7" r="2.3"/>
<circle class="c-evoo" cx="535.2" cy="123.4" r="2.3"/>
<circle class="c-evoo" cx="538.0" cy="108.9" r="2.3"/>
<circle class="c-evoo" cx="536.0" cy="131.4" r="2.3"/>
<circle class="c-evoo" cx="535.5" cy="136.5" r="2.3"/>
<circle class="c-evoo" cx="537.0" cy="143.2" r="2.3"/>
<circle class="c-evoo" cx="537.2" cy="165.3" r="2.3"/>
<rect class="s-corn" x="535.2" y="229.5" width="4.0" height="4.0"/>
<rect class="s-corn" x="533.3" y="211.1" width="4.0" height="4.0"/>
<rect class="s-corn" x="535.2" y="227.4" width="4.0" height="4.0"/>
<rect class="s-corn" x="534.5" y="230.2" width="4.0" height="4.0"/>
<rect class="s-corn" x="533.2" y="223.4" width="4.0" height="4.0"/>
<rect class="s-corn" x="533.8" y="228.0" width="4.0" height="4.0"/>
<rect class="s-corn" x="538.0" y="222.2" width="4.0" height="4.0"/>
<rect class="s-corn" x="539.0" y="234.7" width="4.0" height="4.0"/>
<rect class="s-corn" x="536.2" y="228.1" width="4.0" height="4.0"/>
<rect class="s-corn" x="538.4" y="222.7" width="4.0" height="4.0"/>
<rect class="s-corn" x="534.3" y="216.6" width="4.0" height="4.0"/>
<rect class="s-corn" x="535.5" y="233.4" width="4.0" height="4.0"/>
<rect class="s-corn" x="535.7" y="227.0" width="4.0" height="4.0"/>
<rect class="s-corn" x="534.1" y="225.2" width="4.0" height="4.0"/>
<rect class="s-corn" x="531.4" y="231.3" width="4.0" height="4.0"/>
<rect class="s-corn" x="533.6" y="216.3" width="4.0" height="4.0"/>
<rect class="s-corn" x="532.8" y="218.2" width="4.0" height="4.0"/>
<rect class="s-corn" x="536.4" y="231.4" width="4.0" height="4.0"/>
<rect class="s-corn" x="531.5" y="230.5" width="4.0" height="4.0"/>
<rect class="s-corn" x="536.5" y="219.9" width="4.0" height="4.0"/>
<rect class="s-corn" x="531.2" y="218.8" width="4.0" height="4.0"/>
<rect class="s-corn" x="533.1" y="226.4" width="4.0" height="4.0"/>
<rect class="s-corn" x="533.7" y="209.8" width="4.0" height="4.0"/>
<rect class="s-corn" x="535.0" y="213.3" width="4.0" height="4.0"/>
<rect class="s-corn" x="536.5" y="215.6" width="4.0" height="4.0"/>
<rect class="s-corn" x="533.0" y="218.0" width="4.0" height="4.0"/>
<rect class="s-corn" x="533.3" y="233.1" width="4.0" height="4.0"/>
<rect class="s-corn" x="536.4" y="228.2" width="4.0" height="4.0"/>
<rect class="s-corn" x="535.2" y="213.2" width="4.0" height="4.0"/>
<rect class="s-corn" x="533.4" y="220.1" width="4.0" height="4.0"/>
<rect class="s-corn" x="532.3" y="227.6" width="4.0" height="4.0"/>
<rect class="s-corn" x="532.9" y="219.0" width="4.0" height="4.0"/>
<rect class="s-corn" x="532.2" y="209.6" width="4.0" height="4.0"/>
<rect class="s-corn" x="535.8" y="233.3" width="4.0" height="4.0"/>
<rect class="s-corn" x="534.9" y="217.2" width="4.0" height="4.0"/>
<rect class="s-corn" x="528.5" y="225.2" width="4.0" height="4.0"/>
<rect class="s-corn" x="537.2" y="226.1" width="4.0" height="4.0"/>
<rect class="s-corn" x="536.5" y="234.3" width="4.0" height="4.0"/>
<rect class="s-corn" x="537.0" y="220.9" width="4.0" height="4.0"/>
<rect class="s-corn" x="536.8" y="229.4" width="4.0" height="4.0"/>
<rect class="s-corn" x="531.1" y="221.2" width="4.0" height="4.0"/>
<rect class="s-corn" x="531.4" y="223.2" width="4.0" height="4.0"/>
<rect class="s-corn" x="535.8" y="216.5" width="4.0" height="4.0"/>
<rect class="s-corn" x="530.0" y="233.1" width="4.0" height="4.0"/>
<rect class="s-corn" x="535.3" y="234.3" width="4.0" height="4.0"/>
<rect class="s-corn" x="536.4" y="233.4" width="4.0" height="4.0"/>
<rect class="s-corn" x="537.7" y="232.7" width="4.0" height="4.0"/>
<rect class="s-corn" x="537.2" y="223.0" width="4.0" height="4.0"/>
<rect class="s-corn" x="536.4" y="247.5" width="4.0" height="4.0"/>
<rect class="s-corn" x="536.7" y="240.8" width="4.0" height="4.0"/>
<rect class="s-corn" x="535.8" y="231.8" width="4.0" height="4.0"/>
<rect class="s-corn" x="537.8" y="242.3" width="4.0" height="4.0"/>
<rect class="s-corn" x="536.4" y="238.8" width="4.0" height="4.0"/>
<rect class="s-corn" x="537.9" y="228.1" width="4.0" height="4.0"/>
<rect class="s-corn" x="538.0" y="226.8" width="4.0" height="4.0"/>
<rect class="s-corn" x="536.7" y="233.8" width="4.0" height="4.0"/>
<rect class="s-corn" x="534.8" y="233.1" width="4.0" height="4.0"/>
<rect class="s-corn" x="536.5" y="222.3" width="4.0" height="4.0"/>
<rect class="s-corn" x="537.1" y="240.1" width="4.0" height="4.0"/>
<rect class="s-corn" x="537.1" y="244.1" width="4.0" height="4.0"/>
<rect class="s-corn" x="536.3" y="223.5" width="4.0" height="4.0"/>
<circle class="c-corn" cx="536.2" cy="230.6" r="2.3"/>
<circle class="c-corn" cx="532.7" cy="222.0" r="2.3"/>
<circle class="c-corn" cx="536.1" cy="215.4" r="2.3"/>
<circle class="c-corn" cx="535.0" cy="228.3" r="2.3"/>
<circle class="c-corn" cx="538.2" cy="233.6" r="2.3"/>
<circle class="c-corn" cx="534.3" cy="215.6" r="2.3"/>
<circle class="c-corn" cx="537.0" cy="229.6" r="2.3"/>
<circle class="c-corn" cx="536.4" cy="216.2" r="2.3"/>
<circle class="c-corn" cx="537.6" cy="228.8" r="2.3"/>
<circle class="c-corn" cx="537.1" cy="221.1" r="2.3"/>
<rect class="s-pom" x="529.0" y="239.6" width="4.0" height="4.0"/>
<rect class="s-pom" x="529.9" y="245.4" width="4.0" height="4.0"/>
<rect class="s-pom" x="533.8" y="227.1" width="4.0" height="4.0"/>
<rect class="s-pom" x="530.0" y="239.1" width="4.0" height="4.0"/>
<rect class="s-pom" x="530.8" y="237.0" width="4.0" height="4.0"/>
<rect class="s-pom" x="533.1" y="232.7" width="4.0" height="4.0"/>
<rect class="s-pom" x="533.1" y="233.9" width="4.0" height="4.0"/>
<rect class="s-pom" x="530.7" y="241.5" width="4.0" height="4.0"/>
<rect class="s-pom" x="530.6" y="239.9" width="4.0" height="4.0"/>
<rect class="s-pom" x="535.8" y="238.2" width="4.0" height="4.0"/>
<rect class="s-pom" x="531.6" y="242.8" width="4.0" height="4.0"/>
<rect class="s-pom" x="531.1" y="245.0" width="4.0" height="4.0"/>
<rect class="s-pom" x="528.9" y="242.0" width="4.0" height="4.0"/>
<rect class="s-pom" x="530.8" y="232.8" width="4.0" height="4.0"/>
<rect class="s-pom" x="536.2" y="232.5" width="4.0" height="4.0"/>
<rect class="s-pom" x="536.2" y="242.3" width="4.0" height="4.0"/>
<rect class="s-pom" x="535.5" y="231.7" width="4.0" height="4.0"/>
<rect class="s-pom" x="534.9" y="247.5" width="4.0" height="4.0"/>
<rect class="s-pom" x="531.7" y="237.2" width="4.0" height="4.0"/>
<rect class="s-pom" x="537.9" y="239.2" width="4.0" height="4.0"/>
<rect class="s-pom" x="531.0" y="233.9" width="4.0" height="4.0"/>
<rect class="s-pom" x="533.1" y="240.1" width="4.0" height="4.0"/>
<rect class="s-pom" x="532.4" y="249.2" width="4.0" height="4.0"/>
<rect class="s-pom" x="531.2" y="241.1" width="4.0" height="4.0"/>
<rect class="s-pom" x="535.5" y="231.5" width="4.0" height="4.0"/>
<rect class="s-pom" x="528.7" y="230.9" width="4.0" height="4.0"/>
<rect class="s-pom" x="529.5" y="226.0" width="4.0" height="4.0"/>
<rect class="s-pom" x="533.1" y="225.9" width="4.0" height="4.0"/>
<rect class="s-pom" x="533.2" y="247.4" width="4.0" height="4.0"/>
<rect class="s-pom" x="528.1" y="235.9" width="4.0" height="4.0"/>
<rect class="s-pom" x="527.4" y="243.1" width="4.0" height="4.0"/>
<rect class="s-pom" x="530.2" y="236.3" width="4.0" height="4.0"/>
<rect class="s-pom" x="532.1" y="241.5" width="4.0" height="4.0"/>
<rect class="s-pom" x="531.2" y="238.1" width="4.0" height="4.0"/>
<rect class="s-pom" x="530.7" y="238.7" width="4.0" height="4.0"/>
<rect class="s-pom" x="529.2" y="238.4" width="4.0" height="4.0"/>
<rect class="s-pom" x="527.4" y="234.8" width="4.0" height="4.0"/>
<rect class="s-pom" x="536.6" y="238.5" width="4.0" height="4.0"/>
<rect class="s-pom" x="529.0" y="239.7" width="4.0" height="4.0"/>
<rect class="s-pom" x="529.7" y="227.3" width="4.0" height="4.0"/>
<rect class="s-pom" x="530.2" y="242.8" width="4.0" height="4.0"/>
<rect class="s-pom" x="532.9" y="237.4" width="4.0" height="4.0"/>
<rect class="s-pom" x="529.8" y="231.0" width="4.0" height="4.0"/>
<rect class="s-pom" x="535.2" y="239.6" width="4.0" height="4.0"/>
<rect class="s-pom" x="529.7" y="224.3" width="4.0" height="4.0"/>
<rect class="s-pom" x="466.1" y="223.4" width="4.0" height="4.0"/>
<circle class="c-pom" cx="531.1" cy="246.4" r="2.3"/>
<circle class="c-pom" cx="533.5" cy="241.6" r="2.3"/>
<circle class="c-pom" cx="533.7" cy="246.0" r="2.3"/>
<circle class="c-pom" cx="536.3" cy="240.5" r="2.3"/>
<circle class="c-pom" cx="531.0" cy="244.4" r="2.3"/>
<circle class="c-pom" cx="533.0" cy="243.8" r="2.3"/>
<circle class="c-pom" cx="534.6" cy="249.7" r="2.3"/>
<circle class="c-pom" cx="536.5" cy="237.3" r="2.3"/>
<circle class="c-pom" cx="534.8" cy="250.6" r="2.3"/>
<circle class="c-pom" cx="532.8" cy="242.6" r="2.3"/>
<circle class="c-pom" cx="536.6" cy="247.5" r="2.3"/>
<circle class="c-pom" cx="535.1" cy="232.1" r="2.3"/>
<circle class="c-pom" cx="466.7" cy="218.2" r="2.3"/>
<rect class="s-soy" x="316.3" y="190.2" width="4.0" height="4.0"/>
<rect class="s-soy" x="318.9" y="182.5" width="4.0" height="4.0"/>
<rect class="s-soy" x="316.7" y="190.7" width="4.0" height="4.0"/>
<rect class="s-soy" x="317.1" y="190.3" width="4.0" height="4.0"/>
<rect class="s-soy" x="320.7" y="193.3" width="4.0" height="4.0"/>
<rect class="s-soy" x="321.2" y="192.5" width="4.0" height="4.0"/>
<rect class="s-soy" x="317.6" y="189.9" width="4.0" height="4.0"/>
<rect class="s-soy" x="317.7" y="188.7" width="4.0" height="4.0"/>
<rect class="s-soy" x="318.0" y="182.6" width="4.0" height="4.0"/>
<rect class="s-soy" x="317.5" y="189.9" width="4.0" height="4.0"/>
<rect class="s-soy" x="315.6" y="189.9" width="4.0" height="4.0"/>
<rect class="s-soy" x="320.0" y="189.3" width="4.0" height="4.0"/>
<rect class="s-soy" x="317.9" y="182.2" width="4.0" height="4.0"/>
<rect class="s-soy" x="320.1" y="188.7" width="4.0" height="4.0"/>
<rect class="s-soy" x="321.1" y="191.6" width="4.0" height="4.0"/>
<rect class="s-soy" x="318.6" y="187.5" width="4.0" height="4.0"/>
<rect class="s-soy" x="320.4" y="187.9" width="4.0" height="4.0"/>
<rect class="s-soy" x="319.2" y="187.8" width="4.0" height="4.0"/>
<rect class="s-soy" x="319.1" y="193.2" width="4.0" height="4.0"/>
<rect class="s-soy" x="315.9" y="189.9" width="4.0" height="4.0"/>
<rect class="s-soy" x="320.4" y="190.6" width="4.0" height="4.0"/>
<rect class="s-soy" x="322.2" y="198.6" width="4.0" height="4.0"/>
<rect class="s-soy" x="315.8" y="181.7" width="4.0" height="4.0"/>
<rect class="s-soy" x="321.1" y="196.6" width="4.0" height="4.0"/>
<rect class="s-soy" x="321.3" y="193.5" width="4.0" height="4.0"/>
<rect class="s-soy" x="316.6" y="186.9" width="4.0" height="4.0"/>
<rect class="s-soy" x="321.2" y="186.1" width="4.0" height="4.0"/>
<rect class="s-soy" x="313.1" y="185.7" width="4.0" height="4.0"/>
<rect class="s-soy" x="326.0" y="198.3" width="4.0" height="4.0"/>
<rect class="s-soy" x="316.4" y="186.9" width="4.0" height="4.0"/>
<rect class="s-soy" x="319.2" y="186.8" width="4.0" height="4.0"/>
<rect class="s-soy" x="322.4" y="189.7" width="4.0" height="4.0"/>
<rect class="s-soy" x="315.2" y="195.6" width="4.0" height="4.0"/>
<rect class="s-soy" x="316.8" y="191.0" width="4.0" height="4.0"/>
<rect class="s-soy" x="318.5" y="188.6" width="4.0" height="4.0"/>
<rect class="s-soy" x="319.5" y="187.0" width="4.0" height="4.0"/>
<rect class="s-soy" x="314.7" y="186.7" width="4.0" height="4.0"/>
<rect class="s-soy" x="318.4" y="190.2" width="4.0" height="4.0"/>
<rect class="s-soy" x="320.2" y="190.5" width="4.0" height="4.0"/>
<rect class="s-soy" x="316.1" y="187.0" width="4.0" height="4.0"/>
<rect class="s-soy" x="320.0" y="192.3" width="4.0" height="4.0"/>
<rect class="s-soy" x="318.1" y="189.3" width="4.0" height="4.0"/>
<rect class="s-soy" x="321.3" y="190.1" width="4.0" height="4.0"/>
<rect class="s-soy" x="320.7" y="192.5" width="4.0" height="4.0"/>
<rect class="s-soy" x="319.1" y="195.6" width="4.0" height="4.0"/>
<rect class="s-soy" x="316.8" y="188.5" width="4.0" height="4.0"/>
<rect class="s-soy" x="316.1" y="186.6" width="4.0" height="4.0"/>
<rect class="s-soy" x="323.2" y="197.6" width="4.0" height="4.0"/>
<rect class="s-soy" x="318.6" y="192.4" width="4.0" height="4.0"/>
<rect class="s-soy" x="322.0" y="193.5" width="4.0" height="4.0"/>
<circle class="c-soy" cx="325.9" cy="188.6" r="2.3"/>
<circle class="c-soy" cx="320.0" cy="194.6" r="2.3"/>
<circle class="c-soy" cx="326.6" cy="193.4" r="2.3"/>
<circle class="c-soy" cx="319.3" cy="191.8" r="2.3"/>
<circle class="c-soy" cx="319.9" cy="190.0" r="2.3"/>
<circle class="c-soy" cx="326.8" cy="190.8" r="2.3"/>
<circle class="c-soy" cx="325.8" cy="194.2" r="2.3"/>
<circle class="c-soy" cx="320.0" cy="194.4" r="2.3"/>
<circle class="c-soy" cx="329.4" cy="194.3" r="2.3"/>
<rect class="s-sun" x="306.0" y="193.1" width="4.0" height="4.0"/>
<rect class="s-sun" x="307.4" y="188.7" width="4.0" height="4.0"/>
<rect class="s-sun" x="309.6" y="195.3" width="4.0" height="4.0"/>
<rect class="s-sun" x="306.6" y="191.8" width="4.0" height="4.0"/>
<rect class="s-sun" x="307.0" y="194.8" width="4.0" height="4.0"/>
<rect class="s-sun" x="306.7" y="193.2" width="4.0" height="4.0"/>
<rect class="s-sun" x="307.1" y="192.0" width="4.0" height="4.0"/>
<rect class="s-sun" x="307.8" y="187.3" width="4.0" height="4.0"/>
<rect class="s-sun" x="312.3" y="190.3" width="4.0" height="4.0"/>
<rect class="s-sun" x="304.7" y="193.4" width="4.0" height="4.0"/>
<rect class="s-sun" x="304.6" y="194.6" width="4.0" height="4.0"/>
<rect class="s-sun" x="306.8" y="190.6" width="4.0" height="4.0"/>
<rect class="s-sun" x="310.5" y="190.5" width="4.0" height="4.0"/>
<rect class="s-sun" x="305.2" y="183.2" width="4.0" height="4.0"/>
<rect class="s-sun" x="310.4" y="193.0" width="4.0" height="4.0"/>
<rect class="s-sun" x="306.4" y="193.4" width="4.0" height="4.0"/>
<rect class="s-sun" x="309.0" y="192.6" width="4.0" height="4.0"/>
<rect class="s-sun" x="303.5" y="188.8" width="4.0" height="4.0"/>
<rect class="s-sun" x="309.8" y="192.9" width="4.0" height="4.0"/>
<rect class="s-sun" x="308.3" y="192.0" width="4.0" height="4.0"/>
<rect class="s-sun" x="307.3" y="190.1" width="4.0" height="4.0"/>
<rect class="s-sun" x="309.8" y="188.2" width="4.0" height="4.0"/>
<rect class="s-sun" x="310.3" y="186.8" width="4.0" height="4.0"/>
<rect class="s-sun" x="308.5" y="187.9" width="4.0" height="4.0"/>
<rect class="s-sun" x="308.3" y="187.2" width="4.0" height="4.0"/>
<rect class="s-sun" x="304.8" y="194.4" width="4.0" height="4.0"/>
<rect class="s-sun" x="308.6" y="187.8" width="4.0" height="4.0"/>
<rect class="s-sun" x="308.4" y="194.0" width="4.0" height="4.0"/>
<rect class="s-sun" x="306.0" y="189.6" width="4.0" height="4.0"/>
<rect class="s-sun" x="309.1" y="192.1" width="4.0" height="4.0"/>
<circle class="c-sun" cx="309.8" cy="183.6" r="2.3"/>
<circle class="c-sun" cx="313.0" cy="193.3" r="2.3"/>
<circle class="c-sun" cx="310.5" cy="190.9" r="2.3"/>
<circle class="c-sun" cx="311.0" cy="190.3" r="2.3"/>
<circle class="c-sun" cx="308.5" cy="189.0" r="2.3"/>
<circle class="c-sun" cx="309.3" cy="189.6" r="2.3"/>
<circle class="c-sun" cx="308.2" cy="194.5" r="2.3"/>
<circle class="c-sun" cx="307.9" cy="194.6" r="2.3"/>
<circle class="c-sun" cx="308.5" cy="193.4" r="2.3"/>
<circle class="c-sun" cx="313.2" cy="192.8" r="2.3"/>
<circle class="c-sun" cx="316.8" cy="191.5" r="2.3"/>
</g>
<rect x="306.4" y="97.2" width="239.6" height="155.0" fill="none" stroke="#1a1a1a" stroke-width="0.8"/>
<line x1="330.8" y1="252.2" x2="330.8" y2="254.8" stroke="#1a1a1a" stroke-width="0.7"/>
<text x="330.8" y="263.6" font-size="8.5" text-anchor="middle" >−30</text>
<line x1="370.5" y1="252.2" x2="370.5" y2="254.8" stroke="#1a1a1a" stroke-width="0.7"/>
<text x="370.5" y="263.6" font-size="8.5" text-anchor="middle" >−20</text>
<line x1="410.2" y1="252.2" x2="410.2" y2="254.8" stroke="#1a1a1a" stroke-width="0.7"/>
<text x="410.2" y="263.6" font-size="8.5" text-anchor="middle" >−10</text>
<line x1="450.0" y1="252.2" x2="450.0" y2="254.8" stroke="#1a1a1a" stroke-width="0.7"/>
<text x="450.0" y="263.6" font-size="8.5" text-anchor="middle" >0</text>
<line x1="489.8" y1="252.2" x2="489.8" y2="254.8" stroke="#1a1a1a" stroke-width="0.7"/>
<text x="489.8" y="263.6" font-size="8.5" text-anchor="middle" >10</text>
<line x1="529.5" y1="252.2" x2="529.5" y2="254.8" stroke="#1a1a1a" stroke-width="0.7"/>
<text x="529.5" y="263.6" font-size="8.5" text-anchor="middle" >20</text>
<line x1="303.8" y1="252.0" x2="306.4" y2="252.0" stroke="#1a1a1a" stroke-width="0.7"/>
<text x="301.6" y="254.9" font-size="8.5" text-anchor="end" >−10</text>
<line x1="303.8" y1="223.2" x2="306.4" y2="223.2" stroke="#1a1a1a" stroke-width="0.7"/>
<text x="301.6" y="226.1" font-size="8.5" text-anchor="end" >−5</text>
<line x1="303.8" y1="194.3" x2="306.4" y2="194.3" stroke="#1a1a1a" stroke-width="0.7"/>
<text x="301.6" y="197.2" font-size="8.5" text-anchor="end" >0</text>
<line x1="303.8" y1="165.5" x2="306.4" y2="165.5" stroke="#1a1a1a" stroke-width="0.7"/>
<text x="301.6" y="168.4" font-size="8.5" text-anchor="end" >5</text>
<line x1="303.8" y1="136.6" x2="306.4" y2="136.6" stroke="#1a1a1a" stroke-width="0.7"/>
<text x="301.6" y="139.5" font-size="8.5" text-anchor="end" >10</text>
<line x1="303.8" y1="107.8" x2="306.4" y2="107.8" stroke="#1a1a1a" stroke-width="0.7"/>
<text x="301.6" y="110.7" font-size="8.5" text-anchor="end" >15</text>
<text x="425.9" y="274.0" font-size="8.6" text-anchor="middle" >Canonical Variable 1</text>
<text transform="translate(283.5,175.1) rotate(-90)" font-size="8.7" text-anchor="middle">Canonical Variable 2</text>
<text x="423.0" y="93.0" font-size="11.8" text-anchor="middle" >Lesvos</text>
<text x="279.8" y="94.9" font-size="12.7" text-anchor="start" >b)</text>
<polygon points="30.5,296.8 148.5,296.8 89.0,329.0 40.0,343.2 30.5,345.5" fill="#481a6c" stroke="#481a6c" stroke-width="0.6" stroke-linejoin="round"/>
<polygon points="30.5,345.5 40.0,343.2 89.0,329.0 41.8,371.0 30.5,378.0" fill="#31668e" stroke="#31668e" stroke-width="0.6" stroke-linejoin="round"/>
<polygon points="148.5,296.8 149.4,296.8 150.1,366.7 30.5,411.0 30.5,378.0 41.8,371.0 89.0,329.0" fill="#20a386" stroke="#20a386" stroke-width="0.6" stroke-linejoin="round"/>
<polygon points="30.5,411.0 150.1,366.7 152.9,452.0 30.5,452.0" fill="#80d34d" stroke="#80d34d" stroke-width="0.6" stroke-linejoin="round"/>
<polygon points="149.4,296.8 270.0,296.8 270.0,452.0 152.9,452.0 150.1,366.7" fill="#dce319" stroke="#dce319" stroke-width="0.6" stroke-linejoin="round"/>
<clipPath id="cp3"><rect x="30.5" y="296.8" width="239.5" height="155.2"/></clipPath>
<g clip-path="url(#cp3)">
<rect class="s-evoo" x="268.2" y="382.6" width="4.0" height="4.0"/>
<rect class="s-evoo" x="255.4" y="374.4" width="4.0" height="4.0"/>
<rect class="s-evoo" x="265.8" y="373.0" width="4.0" height="4.0"/>
<rect class="s-evoo" x="262.2" y="381.9" width="4.0" height="4.0"/>
<rect class="s-evoo" x="262.6" y="373.5" width="4.0" height="4.0"/>
<rect class="s-evoo" x="258.4" y="381.7" width="4.0" height="4.0"/>
<rect class="s-evoo" x="262.5" y="359.9" width="4.0" height="4.0"/>
<rect class="s-evoo" x="262.0" y="366.2" width="4.0" height="4.0"/>
<rect class="s-evoo" x="264.5" y="365.8" width="4.0" height="4.0"/>
<rect class="s-evoo" x="260.8" y="383.4" width="4.0" height="4.0"/>
<rect class="s-evoo" x="260.9" y="368.4" width="4.0" height="4.0"/>
<rect class="s-evoo" x="262.3" y="366.3" width="4.0" height="4.0"/>
<rect class="s-evoo" x="264.9" y="362.3" width="4.0" height="4.0"/>
<rect class="s-evoo" x="260.9" y="387.1" width="4.0" height="4.0"/>
<rect class="s-evoo" x="256.7" y="363.4" width="4.0" height="4.0"/>
<rect class="s-evoo" x="254.7" y="366.6" width="4.0" height="4.0"/>
<rect class="s-evoo" x="265.9" y="374.0" width="4.0" height="4.0"/>
<rect class="s-evoo" x="260.7" y="362.8" width="4.0" height="4.0"/>
<rect class="s-evoo" x="259.0" y="385.0" width="4.0" height="4.0"/>
<rect class="s-evoo" x="267.0" y="366.5" width="4.0" height="4.0"/>
<rect class="s-evoo" x="256.8" y="388.7" width="4.0" height="4.0"/>
<rect class="s-evoo" x="262.1" y="367.9" width="4.0" height="4.0"/>
<rect class="s-evoo" x="263.4" y="369.6" width="4.0" height="4.0"/>
<rect class="s-evoo" x="266.3" y="366.8" width="4.0" height="4.0"/>
<rect class="s-evoo" x="262.4" y="376.6" width="4.0" height="4.0"/>
<rect class="s-evoo" x="266.7" y="366.0" width="4.0" height="4.0"/>
<rect class="s-evoo" x="260.6" y="383.4" width="4.0" height="4.0"/>
<rect class="s-evoo" x="262.3" y="379.9" width="4.0" height="4.0"/>
<rect class="s-evoo" x="263.4" y="373.6" width="4.0" height="4.0"/>
<rect class="s-evoo" x="259.8" y="371.7" width="4.0" height="4.0"/>
<rect class="s-evoo" x="262.2" y="366.8" width="4.0" height="4.0"/>
<rect class="s-evoo" x="268.5" y="361.8" width="4.0" height="4.0"/>
<rect class="s-evoo" x="260.0" y="375.1" width="4.0" height="4.0"/>
<rect class="s-evoo" x="266.2" y="366.1" width="4.0" height="4.0"/>
<rect class="s-evoo" x="261.6" y="366.1" width="4.0" height="4.0"/>
<rect class="s-evoo" x="259.3" y="382.5" width="4.0" height="4.0"/>
<rect class="s-evoo" x="262.4" y="368.5" width="4.0" height="4.0"/>
<rect class="s-evoo" x="263.4" y="379.5" width="4.0" height="4.0"/>
<rect class="s-evoo" x="267.1" y="374.9" width="4.0" height="4.0"/>
<rect class="s-evoo" x="263.4" y="376.7" width="4.0" height="4.0"/>
<rect class="s-evoo" x="266.0" y="376.9" width="4.0" height="4.0"/>
<rect class="s-evoo" x="258.4" y="373.0" width="4.0" height="4.0"/>
<rect class="s-evoo" x="261.4" y="385.7" width="4.0" height="4.0"/>
<rect class="s-evoo" x="262.9" y="366.4" width="4.0" height="4.0"/>
<rect class="s-evoo" x="267.2" y="369.0" width="4.0" height="4.0"/>
<rect class="s-evoo" x="264.1" y="371.6" width="4.0" height="4.0"/>
<rect class="s-evoo" x="264.0" y="380.7" width="4.0" height="4.0"/>
<rect class="s-evoo" x="260.0" y="366.9" width="4.0" height="4.0"/>
<rect class="s-evoo" x="265.4" y="370.0" width="4.0" height="4.0"/>
<rect class="s-evoo" x="263.2" y="380.2" width="4.0" height="4.0"/>
<rect class="s-evoo" x="259.7" y="380.3" width="4.0" height="4.0"/>
<rect class="s-evoo" x="261.6" y="367.6" width="4.0" height="4.0"/>
<rect class="s-evoo" x="260.8" y="389.8" width="4.0" height="4.0"/>
<rect class="s-evoo" x="264.6" y="376.3" width="4.0" height="4.0"/>
<rect class="s-evoo" x="260.2" y="383.8" width="4.0" height="4.0"/>
<rect class="s-evoo" x="258.9" y="368.4" width="4.0" height="4.0"/>
<rect class="s-evoo" x="266.7" y="381.1" width="4.0" height="4.0"/>
<rect class="s-evoo" x="261.5" y="377.7" width="4.0" height="4.0"/>
<rect class="s-evoo" x="261.7" y="362.2" width="4.0" height="4.0"/>
<rect class="s-evoo" x="265.9" y="373.2" width="4.0" height="4.0"/>
<rect class="s-evoo" x="265.3" y="378.5" width="4.0" height="4.0"/>
<rect class="s-evoo" x="259.8" y="373.6" width="4.0" height="4.0"/>
<rect class="s-evoo" x="260.1" y="375.5" width="4.0" height="4.0"/>
<rect class="s-evoo" x="265.3" y="380.3" width="4.0" height="4.0"/>
<rect class="s-evoo" x="266.6" y="379.4" width="4.0" height="4.0"/>
<rect class="s-evoo" x="265.2" y="365.9" width="4.0" height="4.0"/>
<rect class="s-evoo" x="264.7" y="375.8" width="4.0" height="4.0"/>
<rect class="s-evoo" x="263.2" y="375.4" width="4.0" height="4.0"/>
<rect class="s-evoo" x="259.8" y="372.2" width="4.0" height="4.0"/>
<rect class="s-evoo" x="264.6" y="370.8" width="4.0" height="4.0"/>
<rect class="s-evoo" x="264.9" y="383.5" width="4.0" height="4.0"/>
<rect class="s-evoo" x="263.6" y="369.5" width="4.0" height="4.0"/>
<rect class="s-evoo" x="264.1" y="371.0" width="4.0" height="4.0"/>
<rect class="s-evoo" x="261.1" y="370.1" width="4.0" height="4.0"/>
<rect class="s-evoo" x="268.7" y="378.0" width="4.0" height="4.0"/>
<rect class="s-evoo" x="265.1" y="379.5" width="4.0" height="4.0"/>
<rect class="s-evoo" x="257.4" y="376.0" width="4.0" height="4.0"/>
<rect class="s-evoo" x="265.1" y="370.7" width="4.0" height="4.0"/>
<rect class="s-evoo" x="259.3" y="377.3" width="4.0" height="4.0"/>
<rect class="s-evoo" x="261.9" y="381.0" width="4.0" height="4.0"/>
<rect class="s-evoo" x="251.5" y="385.5" width="4.0" height="4.0"/>
<rect class="s-evoo" x="254.0" y="387.5" width="4.0" height="4.0"/>
<rect class="s-evoo" x="255.5" y="384.0" width="4.0" height="4.0"/>
<rect class="s-evoo" x="257.0" y="388.0" width="4.0" height="4.0"/>
<rect class="s-evoo" x="253.5" y="383.0" width="4.0" height="4.0"/>
<rect class="s-evoo" x="200.6" y="399.0" width="4.0" height="4.0"/>
<circle class="c-evoo" cx="265.7" cy="386.9" r="2.3"/>
<circle class="c-evoo" cx="268.9" cy="392.4" r="2.3"/>
<circle class="c-evoo" cx="269.0" cy="385.1" r="2.3"/>
<circle class="c-evoo" cx="271.2" cy="381.1" r="2.3"/>
<circle class="c-evoo" cx="265.4" cy="386.2" r="2.3"/>
<circle class="c-evoo" cx="269.5" cy="388.8" r="2.3"/>
<circle class="c-evoo" cx="270.8" cy="391.2" r="2.3"/>
<circle class="c-evoo" cx="268.3" cy="381.4" r="2.3"/>
<circle class="c-evoo" cx="266.0" cy="386.8" r="2.3"/>
<circle class="c-evoo" cx="264.4" cy="381.7" r="2.3"/>
<circle class="c-evoo" cx="264.1" cy="383.8" r="2.3"/>
<circle class="c-evoo" cx="268.5" cy="389.2" r="2.3"/>
<circle class="c-evoo" cx="185.6" cy="393.4" r="2.3"/>
<rect class="s-corn" x="36.2" y="404.8" width="4.0" height="4.0"/>
<rect class="s-corn" x="33.9" y="427.5" width="4.0" height="4.0"/>
<rect class="s-corn" x="36.9" y="405.2" width="4.0" height="4.0"/>
<rect class="s-corn" x="37.5" y="411.5" width="4.0" height="4.0"/>
<rect class="s-corn" x="36.6" y="444.5" width="4.0" height="4.0"/>
<rect class="s-corn" x="36.7" y="438.5" width="4.0" height="4.0"/>
<rect class="s-corn" x="36.7" y="443.9" width="4.0" height="4.0"/>
<rect class="s-corn" x="36.4" y="431.2" width="4.0" height="4.0"/>
<rect class="s-corn" x="35.9" y="434.3" width="4.0" height="4.0"/>
<rect class="s-corn" x="35.5" y="412.6" width="4.0" height="4.0"/>
<rect class="s-corn" x="35.0" y="433.0" width="4.0" height="4.0"/>
<rect class="s-corn" x="37.9" y="407.6" width="4.0" height="4.0"/>
<rect class="s-corn" x="40.7" y="411.2" width="4.0" height="4.0"/>
<rect class="s-corn" x="39.7" y="444.1" width="4.0" height="4.0"/>
<rect class="s-corn" x="35.7" y="432.5" width="4.0" height="4.0"/>
<rect class="s-corn" x="41.4" y="438.4" width="4.0" height="4.0"/>
<rect class="s-corn" x="38.0" y="428.3" width="4.0" height="4.0"/>
<rect class="s-corn" x="39.5" y="422.0" width="4.0" height="4.0"/>
<rect class="s-corn" x="34.9" y="417.3" width="4.0" height="4.0"/>
<rect class="s-corn" x="40.2" y="445.0" width="4.0" height="4.0"/>
<rect class="s-corn" x="36.4" y="405.5" width="4.0" height="4.0"/>
<rect class="s-corn" x="36.8" y="408.3" width="4.0" height="4.0"/>
<rect class="s-corn" x="34.6" y="439.5" width="4.0" height="4.0"/>
<rect class="s-corn" x="35.7" y="423.1" width="4.0" height="4.0"/>
<rect class="s-corn" x="34.8" y="403.6" width="4.0" height="4.0"/>
<rect class="s-corn" x="40.7" y="445.2" width="4.0" height="4.0"/>
<rect class="s-corn" x="37.0" y="447.1" width="4.0" height="4.0"/>
<rect class="s-corn" x="37.4" y="407.6" width="4.0" height="4.0"/>
<rect class="s-corn" x="38.6" y="432.0" width="4.0" height="4.0"/>
<rect class="s-corn" x="38.0" y="403.7" width="4.0" height="4.0"/>
<rect class="s-corn" x="36.4" y="403.2" width="4.0" height="4.0"/>
<rect class="s-corn" x="38.1" y="446.5" width="4.0" height="4.0"/>
<rect class="s-corn" x="37.7" y="407.0" width="4.0" height="4.0"/>
<rect class="s-corn" x="36.1" y="403.8" width="4.0" height="4.0"/>
<rect class="s-corn" x="38.6" y="435.4" width="4.0" height="4.0"/>
<rect class="s-corn" x="40.6" y="411.4" width="4.0" height="4.0"/>
<rect class="s-corn" x="37.4" y="405.3" width="4.0" height="4.0"/>
<rect class="s-corn" x="35.6" y="441.5" width="4.0" height="4.0"/>
<rect class="s-corn" x="41.0" y="435.8" width="4.0" height="4.0"/>
<rect class="s-corn" x="39.9" y="434.9" width="4.0" height="4.0"/>
<rect class="s-corn" x="39.3" y="423.7" width="4.0" height="4.0"/>
<rect class="s-corn" x="38.4" y="446.4" width="4.0" height="4.0"/>
<rect class="s-corn" x="38.8" y="435.3" width="4.0" height="4.0"/>
<rect class="s-corn" x="38.3" y="432.3" width="4.0" height="4.0"/>
<rect class="s-corn" x="40.2" y="439.8" width="4.0" height="4.0"/>
<rect class="s-corn" x="39.3" y="418.9" width="4.0" height="4.0"/>
<rect class="s-corn" x="37.7" y="432.2" width="4.0" height="4.0"/>
<rect class="s-corn" x="40.0" y="423.8" width="4.0" height="4.0"/>
<rect class="s-corn" x="35.7" y="415.2" width="4.0" height="4.0"/>
<rect class="s-corn" x="42.2" y="438.5" width="4.0" height="4.0"/>
<rect class="s-corn" x="36.4" y="421.0" width="4.0" height="4.0"/>
<rect class="s-corn" x="37.7" y="411.2" width="4.0" height="4.0"/>
<rect class="s-corn" x="34.2" y="403.2" width="4.0" height="4.0"/>
<rect class="s-corn" x="35.3" y="400.4" width="4.0" height="4.0"/>
<rect class="s-corn" x="36.8" y="442.0" width="4.0" height="4.0"/>
<rect class="s-corn" x="44.0" y="404.0" width="4.0" height="4.0"/>
<circle class="c-corn" cx="41.3" cy="437.8" r="2.3"/>
<circle class="c-corn" cx="40.7" cy="412.5" r="2.3"/>
<circle class="c-corn" cx="37.1" cy="407.7" r="2.3"/>
<circle class="c-corn" cx="37.7" cy="421.5" r="2.3"/>
<circle class="c-corn" cx="39.4" cy="435.5" r="2.3"/>
<circle class="c-corn" cx="39.7" cy="411.5" r="2.3"/>
<circle class="c-corn" cx="38.4" cy="434.0" r="2.3"/>
<circle class="c-corn" cx="38.5" cy="433.3" r="2.3"/>
<circle class="c-corn" cx="41.6" cy="440.4" r="2.3"/>
<circle class="c-corn" cx="41.5" cy="447.5" r="2.3"/>
<rect class="s-pom" x="33.5" y="382.5" width="4.0" height="4.0"/>
<rect class="s-pom" x="38.1" y="374.2" width="4.0" height="4.0"/>
<rect class="s-pom" x="36.3" y="401.8" width="4.0" height="4.0"/>
<rect class="s-pom" x="31.9" y="384.0" width="4.0" height="4.0"/>
<rect class="s-pom" x="33.7" y="401.9" width="4.0" height="4.0"/>
<rect class="s-pom" x="35.6" y="393.6" width="4.0" height="4.0"/>
<rect class="s-pom" x="38.7" y="404.0" width="4.0" height="4.0"/>
<rect class="s-pom" x="34.9" y="385.6" width="4.0" height="4.0"/>
<rect class="s-pom" x="34.6" y="404.3" width="4.0" height="4.0"/>
<rect class="s-pom" x="36.7" y="401.1" width="4.0" height="4.0"/>
<rect class="s-pom" x="35.8" y="381.5" width="4.0" height="4.0"/>
<rect class="s-pom" x="33.1" y="387.2" width="4.0" height="4.0"/>
<rect class="s-pom" x="35.1" y="403.9" width="4.0" height="4.0"/>
<rect class="s-pom" x="37.0" y="373.5" width="4.0" height="4.0"/>
<rect class="s-pom" x="33.9" y="403.2" width="4.0" height="4.0"/>
<rect class="s-pom" x="35.7" y="392.6" width="4.0" height="4.0"/>
<rect class="s-pom" x="40.2" y="401.1" width="4.0" height="4.0"/>
<rect class="s-pom" x="37.9" y="396.6" width="4.0" height="4.0"/>
<rect class="s-pom" x="34.5" y="375.1" width="4.0" height="4.0"/>
<rect class="s-pom" x="36.6" y="391.9" width="4.0" height="4.0"/>
<rect class="s-pom" x="35.4" y="399.0" width="4.0" height="4.0"/>
<rect class="s-pom" x="37.2" y="405.5" width="4.0" height="4.0"/>
<rect class="s-pom" x="38.9" y="396.4" width="4.0" height="4.0"/>
<rect class="s-pom" x="36.5" y="388.8" width="4.0" height="4.0"/>
<rect class="s-pom" x="37.9" y="399.0" width="4.0" height="4.0"/>
<rect class="s-pom" x="35.9" y="400.5" width="4.0" height="4.0"/>
<rect class="s-pom" x="36.9" y="401.0" width="4.0" height="4.0"/>
<rect class="s-pom" x="36.9" y="399.8" width="4.0" height="4.0"/>
<rect class="s-pom" x="39.3" y="404.3" width="4.0" height="4.0"/>
<rect class="s-pom" x="34.8" y="403.9" width="4.0" height="4.0"/>
<rect class="s-pom" x="36.0" y="393.2" width="4.0" height="4.0"/>
<rect class="s-pom" x="36.0" y="378.8" width="4.0" height="4.0"/>
<rect class="s-pom" x="37.6" y="397.2" width="4.0" height="4.0"/>
<rect class="s-pom" x="34.2" y="385.1" width="4.0" height="4.0"/>
<rect class="s-pom" x="35.4" y="390.6" width="4.0" height="4.0"/>
<rect class="s-pom" x="41.5" y="377.4" width="4.0" height="4.0"/>
<rect class="s-pom" x="37.6" y="385.5" width="4.0" height="4.0"/>
<rect class="s-pom" x="33.3" y="375.8" width="4.0" height="4.0"/>
<rect class="s-pom" x="33.1" y="377.6" width="4.0" height="4.0"/>
<rect class="s-pom" x="35.1" y="393.5" width="4.0" height="4.0"/>
<rect class="s-pom" x="37.1" y="372.7" width="4.0" height="4.0"/>
<rect class="s-pom" x="38.9" y="373.2" width="4.0" height="4.0"/>
<rect class="s-pom" x="35.9" y="389.5" width="4.0" height="4.0"/>
<rect class="s-pom" x="36.0" y="392.4" width="4.0" height="4.0"/>
<rect class="s-pom" x="39.2" y="387.3" width="4.0" height="4.0"/>
<rect class="s-pom" x="37.3" y="406.1" width="4.0" height="4.0"/>
<rect class="s-pom" x="33.7" y="406.7" width="4.0" height="4.0"/>
<rect class="s-pom" x="36.9" y="381.1" width="4.0" height="4.0"/>
<rect class="s-pom" x="35.8" y="378.5" width="4.0" height="4.0"/>
<rect class="s-pom" x="37.6" y="375.0" width="4.0" height="4.0"/>
<circle class="c-pom" cx="39.6" cy="405.3" r="2.3"/>
<circle class="c-pom" cx="41.8" cy="390.5" r="2.3"/>
<circle class="c-pom" cx="36.0" cy="376.3" r="2.3"/>
<circle class="c-pom" cx="37.6" cy="395.5" r="2.3"/>
<circle class="c-pom" cx="39.5" cy="408.5" r="2.3"/>
<circle class="c-pom" cx="35.3" cy="383.3" r="2.3"/>
<circle class="c-pom" cx="38.0" cy="408.4" r="2.3"/>
<circle class="c-pom" cx="36.9" cy="398.1" r="2.3"/>
<circle class="c-pom" cx="38.8" cy="379.8" r="2.3"/>
<circle class="c-pom" cx="40.3" cy="408.8" r="2.3"/>
<circle class="c-pom" cx="37.2" cy="375.4" r="2.3"/>
<circle class="c-pom" cx="35.3" cy="383.2" r="2.3"/>
<circle class="c-pom" cx="42.0" cy="406.6" r="2.3"/>
<circle class="c-pom" cx="41.8" cy="404.1" r="2.3"/>
<circle class="c-pom" cx="39.5" cy="399.5" r="2.3"/>
<circle class="c-pom" cx="39.0" cy="397.3" r="2.3"/>
<circle class="c-pom" cx="40.0" cy="380.0" r="2.3"/>
<rect class="s-soy" x="33.8" y="344.4" width="4.0" height="4.0"/>
<rect class="s-soy" x="37.7" y="371.2" width="4.0" height="4.0"/>
<rect class="s-soy" x="33.1" y="351.1" width="4.0" height="4.0"/>
<rect class="s-soy" x="34.9" y="364.0" width="4.0" height="4.0"/>
<rect class="s-soy" x="33.4" y="352.3" width="4.0" height="4.0"/>
<rect class="s-soy" x="35.6" y="349.3" width="4.0" height="4.0"/>
<rect class="s-soy" x="35.3" y="345.4" width="4.0" height="4.0"/>
<rect class="s-soy" x="35.7" y="348.5" width="4.0" height="4.0"/>
<rect class="s-soy" x="35.7" y="338.6" width="4.0" height="4.0"/>
<rect class="s-soy" x="35.3" y="369.6" width="4.0" height="4.0"/>
<rect class="s-soy" x="36.0" y="378.8" width="4.0" height="4.0"/>
<rect class="s-soy" x="37.3" y="347.7" width="4.0" height="4.0"/>
<rect class="s-soy" x="34.0" y="377.1" width="4.0" height="4.0"/>
<rect class="s-soy" x="33.0" y="344.1" width="4.0" height="4.0"/>
<rect class="s-soy" x="35.8" y="378.9" width="4.0" height="4.0"/>
<rect class="s-soy" x="34.0" y="375.1" width="4.0" height="4.0"/>
<rect class="s-soy" x="32.8" y="353.0" width="4.0" height="4.0"/>
<rect class="s-soy" x="32.8" y="374.2" width="4.0" height="4.0"/>
<rect class="s-soy" x="34.2" y="344.3" width="4.0" height="4.0"/>
<rect class="s-soy" x="36.7" y="347.8" width="4.0" height="4.0"/>
<rect class="s-soy" x="35.7" y="362.3" width="4.0" height="4.0"/>
<rect class="s-soy" x="34.8" y="344.4" width="4.0" height="4.0"/>
<rect class="s-soy" x="33.4" y="356.1" width="4.0" height="4.0"/>
<rect class="s-soy" x="33.4" y="344.9" width="4.0" height="4.0"/>
<rect class="s-soy" x="37.7" y="352.7" width="4.0" height="4.0"/>
<rect class="s-soy" x="32.3" y="345.4" width="4.0" height="4.0"/>
<rect class="s-soy" x="35.6" y="377.7" width="4.0" height="4.0"/>
<rect class="s-soy" x="34.4" y="343.0" width="4.0" height="4.0"/>
<rect class="s-soy" x="35.4" y="377.4" width="4.0" height="4.0"/>
<rect class="s-soy" x="35.5" y="367.4" width="4.0" height="4.0"/>
<rect class="s-soy" x="36.1" y="350.6" width="4.0" height="4.0"/>
<rect class="s-soy" x="34.6" y="349.3" width="4.0" height="4.0"/>
<rect class="s-soy" x="37.4" y="381.6" width="4.0" height="4.0"/>
<rect class="s-soy" x="36.5" y="381.9" width="4.0" height="4.0"/>
<rect class="s-soy" x="33.8" y="350.7" width="4.0" height="4.0"/>
<rect class="s-soy" x="38.2" y="377.4" width="4.0" height="4.0"/>
<rect class="s-soy" x="35.2" y="350.9" width="4.0" height="4.0"/>
<rect class="s-soy" x="39.0" y="381.1" width="4.0" height="4.0"/>
<rect class="s-soy" x="34.6" y="353.0" width="4.0" height="4.0"/>
<rect class="s-soy" x="37.2" y="344.2" width="4.0" height="4.0"/>
<rect class="s-soy" x="34.7" y="361.2" width="4.0" height="4.0"/>
<rect class="s-soy" x="30.2" y="346.2" width="4.0" height="4.0"/>
<rect class="s-soy" x="35.6" y="347.6" width="4.0" height="4.0"/>
<rect class="s-soy" x="35.5" y="363.1" width="4.0" height="4.0"/>
<rect class="s-soy" x="36.1" y="371.9" width="4.0" height="4.0"/>
<rect class="s-soy" x="35.3" y="369.3" width="4.0" height="4.0"/>
<rect class="s-soy" x="34.4" y="341.8" width="4.0" height="4.0"/>
<rect class="s-soy" x="33.4" y="364.8" width="4.0" height="4.0"/>
<rect class="s-soy" x="34.0" y="347.1" width="4.0" height="4.0"/>
<rect class="s-soy" x="34.0" y="364.9" width="4.0" height="4.0"/>
<rect class="s-soy" x="36.0" y="401.0" width="4.0" height="4.0"/>
<rect class="s-soy" x="34.5" y="397.0" width="4.0" height="4.0"/>
<circle class="c-soy" cx="33.7" cy="366.8" r="2.3"/>
<circle class="c-soy" cx="38.7" cy="349.3" r="2.3"/>
<circle class="c-soy" cx="37.6" cy="358.8" r="2.3"/>
<circle class="c-soy" cx="40.3" cy="373.2" r="2.3"/>
<circle class="c-soy" cx="37.4" cy="355.4" r="2.3"/>
<circle class="c-soy" cx="38.9" cy="378.7" r="2.3"/>
<circle class="c-soy" cx="33.9" cy="340.7" r="2.3"/>
<circle class="c-soy" cx="34.0" cy="381.9" r="2.3"/>
<circle class="c-soy" cx="36.7" cy="352.2" r="2.3"/>
<circle class="c-soy" cx="36.8" cy="348.6" r="2.3"/>
<circle class="c-soy" cx="34.4" cy="347.5" r="2.3"/>
<circle class="c-soy" cx="36.2" cy="357.1" r="2.3"/>
<circle class="c-soy" cx="36.6" cy="363.9" r="2.3"/>
<circle class="c-soy" cx="35.6" cy="360.5" r="2.3"/>
<rect class="s-sun" x="33.2" y="334.6" width="4.0" height="4.0"/>
<rect class="s-sun" x="34.7" y="340.1" width="4.0" height="4.0"/>
<rect class="s-sun" x="32.1" y="334.4" width="4.0" height="4.0"/>
<rect class="s-sun" x="32.4" y="316.6" width="4.0" height="4.0"/>
<rect class="s-sun" x="33.1" y="343.1" width="4.0" height="4.0"/>
<rect class="s-sun" x="31.8" y="347.5" width="4.0" height="4.0"/>
<rect class="s-sun" x="32.9" y="324.6" width="4.0" height="4.0"/>
<rect class="s-sun" x="37.5" y="325.0" width="4.0" height="4.0"/>
<rect class="s-sun" x="32.6" y="308.1" width="4.0" height="4.0"/>
<rect class="s-sun" x="33.0" y="305.8" width="4.0" height="4.0"/>
<rect class="s-sun" x="34.4" y="340.1" width="4.0" height="4.0"/>
<rect class="s-sun" x="31.6" y="297.6" width="4.0" height="4.0"/>
<rect class="s-sun" x="33.5" y="306.5" width="4.0" height="4.0"/>
<rect class="s-sun" x="29.5" y="297.0" width="4.0" height="4.0"/>
<rect class="s-sun" x="31.4" y="324.2" width="4.0" height="4.0"/>
<rect class="s-sun" x="36.2" y="333.9" width="4.0" height="4.0"/>
<rect class="s-sun" x="35.5" y="334.7" width="4.0" height="4.0"/>
<rect class="s-sun" x="32.1" y="298.4" width="4.0" height="4.0"/>
<rect class="s-sun" x="34.2" y="323.0" width="4.0" height="4.0"/>
<rect class="s-sun" x="33.5" y="311.1" width="4.0" height="4.0"/>
<rect class="s-sun" x="33.0" y="303.4" width="4.0" height="4.0"/>
<rect class="s-sun" x="33.6" y="328.0" width="4.0" height="4.0"/>
<rect class="s-sun" x="32.1" y="326.9" width="4.0" height="4.0"/>
<rect class="s-sun" x="35.2" y="336.3" width="4.0" height="4.0"/>
<rect class="s-sun" x="36.9" y="346.6" width="4.0" height="4.0"/>
<rect class="s-sun" x="29.4" y="317.0" width="4.0" height="4.0"/>
<rect class="s-sun" x="34.5" y="324.4" width="4.0" height="4.0"/>
<rect class="s-sun" x="35.4" y="317.4" width="4.0" height="4.0"/>
<rect class="s-sun" x="31.1" y="314.3" width="4.0" height="4.0"/>
<rect class="s-sun" x="31.0" y="309.0" width="4.0" height="4.0"/>
<rect class="s-sun" x="35.7" y="349.0" width="4.0" height="4.0"/>
<rect class="s-sun" x="36.4" y="339.4" width="4.0" height="4.0"/>
<rect class="s-sun" x="31.9" y="341.8" width="4.0" height="4.0"/>
<rect class="s-sun" x="29.3" y="298.9" width="4.0" height="4.0"/>
<rect class="s-sun" x="33.4" y="346.5" width="4.0" height="4.0"/>
<rect class="s-sun" x="29.8" y="309.5" width="4.0" height="4.0"/>
<rect class="s-sun" x="33.6" y="315.7" width="4.0" height="4.0"/>
<rect class="s-sun" x="34.6" y="324.7" width="4.0" height="4.0"/>
<rect class="s-sun" x="33.6" y="323.3" width="4.0" height="4.0"/>
<rect class="s-sun" x="31.3" y="297.1" width="4.0" height="4.0"/>
<rect class="s-sun" x="37.2" y="337.9" width="4.0" height="4.0"/>
<rect class="s-sun" x="31.7" y="346.6" width="4.0" height="4.0"/>
<rect class="s-sun" x="31.3" y="343.8" width="4.0" height="4.0"/>
<rect class="s-sun" x="36.3" y="343.8" width="4.0" height="4.0"/>
<rect class="s-sun" x="32.6" y="310.4" width="4.0" height="4.0"/>
<rect class="s-sun" x="32.9" y="332.6" width="4.0" height="4.0"/>
<rect class="s-sun" x="36.1" y="345.9" width="4.0" height="4.0"/>
<rect class="s-sun" x="33.1" y="329.5" width="4.0" height="4.0"/>
<rect class="s-sun" x="34.7" y="319.4" width="4.0" height="4.0"/>
<rect class="s-sun" x="33.6" y="347.3" width="4.0" height="4.0"/>
<rect class="s-sun" x="34.6" y="331.0" width="4.0" height="4.0"/>
<rect class="s-sun" x="29.3" y="302.5" width="4.0" height="4.0"/>
<rect class="s-sun" x="30.2" y="323.7" width="4.0" height="4.0"/>
<rect class="s-sun" x="29.9" y="310.5" width="4.0" height="4.0"/>
<rect class="s-sun" x="32.2" y="304.0" width="4.0" height="4.0"/>
<rect class="s-sun" x="32.7" y="302.7" width="4.0" height="4.0"/>
<rect class="s-sun" x="33.6" y="318.0" width="4.0" height="4.0"/>
<rect class="s-sun" x="32.2" y="311.6" width="4.0" height="4.0"/>
<rect class="s-sun" x="33.6" y="325.5" width="4.0" height="4.0"/>
<rect class="s-sun" x="31.8" y="341.3" width="4.0" height="4.0"/>
<rect class="s-sun" x="31.6" y="331.1" width="4.0" height="4.0"/>
<rect class="s-sun" x="31.4" y="306.9" width="4.0" height="4.0"/>
<rect class="s-sun" x="30.9" y="325.6" width="4.0" height="4.0"/>
<rect class="s-sun" x="31.5" y="329.1" width="4.0" height="4.0"/>
<rect class="s-sun" x="32.3" y="309.1" width="4.0" height="4.0"/>
<rect class="s-sun" x="30.2" y="308.0" width="4.0" height="4.0"/>
<rect class="s-sun" x="32.8" y="327.6" width="4.0" height="4.0"/>
<rect class="s-sun" x="29.3" y="296.6" width="4.0" height="4.0"/>
<rect class="s-sun" x="34.9" y="308.9" width="4.0" height="4.0"/>
<rect class="s-sun" x="31.4" y="326.1" width="4.0" height="4.0"/>
<circle class="c-sun" cx="36.4" cy="355.3" r="2.3"/>
<circle class="c-sun" cx="34.4" cy="316.5" r="2.3"/>
<circle class="c-sun" cx="32.6" cy="303.7" r="2.3"/>
<circle class="c-sun" cx="35.3" cy="348.8" r="2.3"/>
<circle class="c-sun" cx="34.8" cy="321.7" r="2.3"/>
<circle class="c-sun" cx="34.6" cy="324.6" r="2.3"/>
<circle class="c-sun" cx="33.2" cy="312.6" r="2.3"/>
<circle class="c-sun" cx="36.1" cy="353.7" r="2.3"/>
<circle class="c-sun" cx="33.4" cy="318.9" r="2.3"/>
<circle class="c-sun" cx="33.3" cy="319.7" r="2.3"/>
<circle class="c-sun" cx="33.6" cy="347.6" r="2.3"/>
<circle class="c-sun" cx="32.8" cy="346.0" r="2.3"/>
<circle class="c-sun" cx="35.2" cy="341.6" r="2.3"/>
<circle class="c-sun" cx="32.5" cy="342.5" r="2.3"/>
<circle class="c-sun" cx="36.0" cy="339.7" r="2.3"/>
<circle class="c-sun" cx="38.6" cy="351.2" r="2.3"/>
<circle class="c-sun" cx="33.9" cy="300.2" r="2.3"/>
<circle class="c-sun" cx="33.8" cy="342.9" r="2.3"/>
<circle class="c-sun" cx="35.1" cy="353.9" r="2.3"/>
<circle class="c-sun" cx="32.3" cy="332.0" r="2.3"/>
<circle class="c-sun" cx="37.5" cy="348.9" r="2.3"/>
<circle class="c-sun" cx="33.7" cy="334.0" r="2.3"/>
</g>
<rect x="30.5" y="296.8" width="239.5" height="155.2" fill="none" stroke="#1a1a1a" stroke-width="0.8"/>
<line x1="50.5" y1="452.0" x2="50.5" y2="454.6" stroke="#1a1a1a" stroke-width="0.7"/>
<text x="50.5" y="462.5" font-size="8.5" text-anchor="middle" >−10</text>
<line x1="87.5" y1="452.0" x2="87.5" y2="454.6" stroke="#1a1a1a" stroke-width="0.7"/>
<text x="87.5" y="462.5" font-size="8.5" text-anchor="middle" >0</text>
<line x1="124.5" y1="452.0" x2="124.5" y2="454.6" stroke="#1a1a1a" stroke-width="0.7"/>
<text x="124.5" y="462.5" font-size="8.5" text-anchor="middle" >10</text>
<line x1="161.5" y1="452.0" x2="161.5" y2="454.6" stroke="#1a1a1a" stroke-width="0.7"/>
<text x="161.5" y="462.5" font-size="8.5" text-anchor="middle" >20</text>
<line x1="198.5" y1="452.0" x2="198.5" y2="454.6" stroke="#1a1a1a" stroke-width="0.7"/>
<text x="198.5" y="462.5" font-size="8.5" text-anchor="middle" >30</text>
<line x1="235.5" y1="452.0" x2="235.5" y2="454.6" stroke="#1a1a1a" stroke-width="0.7"/>
<text x="235.5" y="462.5" font-size="8.5" text-anchor="middle" >40</text>
<line x1="27.9" y1="439.8" x2="30.5" y2="439.8" stroke="#1a1a1a" stroke-width="0.7"/>
<text x="25.7" y="442.7" font-size="8.5" text-anchor="end" >−6</text>
<line x1="27.9" y1="418.7" x2="30.5" y2="418.7" stroke="#1a1a1a" stroke-width="0.7"/>
<text x="25.7" y="421.6" font-size="8.5" text-anchor="end" >−4</text>
<line x1="27.9" y1="397.6" x2="30.5" y2="397.6" stroke="#1a1a1a" stroke-width="0.7"/>
<text x="25.7" y="400.5" font-size="8.5" text-anchor="end" >−2</text>
<line x1="27.9" y1="376.5" x2="30.5" y2="376.5" stroke="#1a1a1a" stroke-width="0.7"/>
<text x="25.7" y="379.4" font-size="8.5" text-anchor="end" >0</text>
<line x1="27.9" y1="355.4" x2="30.5" y2="355.4" stroke="#1a1a1a" stroke-width="0.7"/>
<text x="25.7" y="358.3" font-size="8.5" text-anchor="end" >2</text>
<line x1="27.9" y1="334.3" x2="30.5" y2="334.3" stroke="#1a1a1a" stroke-width="0.7"/>
<text x="25.7" y="337.2" font-size="8.5" text-anchor="end" >4</text>
<line x1="27.9" y1="313.2" x2="30.5" y2="313.2" stroke="#1a1a1a" stroke-width="0.7"/>
<text x="25.7" y="316.1" font-size="8.5" text-anchor="end" >6</text>
<text x="149.9" y="473.4" font-size="8.6" text-anchor="middle" >Canonical Variable 1</text>
<text transform="translate(12.0,374.8) rotate(-90)" font-size="8.7" text-anchor="middle">Canonical Variable 2</text>
<text x="148.0" y="292.0" font-size="11.8" text-anchor="middle" >Kalamata</text>
<text x="9.3" y="292.0" font-size="12.7" text-anchor="start" >c)</text>
<polygon points="306.4,296.8 433.0,296.8 429.0,315.3 426.5,316.8 306.4,364.2" fill="#80d34d" stroke="#80d34d" stroke-width="0.6" stroke-linejoin="round"/>
<polygon points="306.4,364.2 426.5,316.8 429.0,315.3 389.8,360.0 338.7,420.5 312.9,452.0 306.4,452.0" fill="#20a386" stroke="#20a386" stroke-width="0.6" stroke-linejoin="round"/>
<polygon points="429.0,315.3 448.1,378.0 331.3,452.0 312.9,452.0 338.7,420.5 389.8,360.0" fill="#31668e" stroke="#31668e" stroke-width="0.6" stroke-linejoin="round"/>
<polygon points="448.1,378.0 477.6,420.5 496.7,452.0 331.3,452.0" fill="#481a6c" stroke="#481a6c" stroke-width="0.6" stroke-linejoin="round"/>
<polygon points="433.0,296.8 546.0,296.8 546.0,452.0 496.7,452.0 477.6,420.5 448.1,378.0 429.0,315.3" fill="#dce319" stroke="#dce319" stroke-width="0.6" stroke-linejoin="round"/>
<clipPath id="cp4"><rect x="306.4" y="296.8" width="239.6" height="155.2"/></clipPath>
<g clip-path="url(#cp4)">
<rect class="s-evoo" x="513.2" y="345.5" width="4.0" height="4.0"/>
<rect class="s-evoo" x="524.9" y="359.3" width="4.0" height="4.0"/>
<rect class="s-evoo" x="540.1" y="342.2" width="4.0" height="4.0"/>
<rect class="s-evoo" x="522.0" y="338.3" width="4.0" height="4.0"/>
<rect class="s-evoo" x="521.2" y="350.3" width="4.0" height="4.0"/>
<rect class="s-evoo" x="529.5" y="353.2" width="4.0" height="4.0"/>
<rect class="s-evoo" x="515.0" y="342.3" width="4.0" height="4.0"/>
<rect class="s-evoo" x="511.0" y="360.3" width="4.0" height="4.0"/>
<rect class="s-evoo" x="512.8" y="356.1" width="4.0" height="4.0"/>
<rect class="s-evoo" x="526.4" y="355.9" width="4.0" height="4.0"/>
<rect class="s-evoo" x="509.6" y="352.7" width="4.0" height="4.0"/>
<rect class="s-evoo" x="527.6" y="350.0" width="4.0" height="4.0"/>
<rect class="s-evoo" x="528.2" y="342.7" width="4.0" height="4.0"/>
<rect class="s-evoo" x="536.7" y="342.9" width="4.0" height="4.0"/>
<rect class="s-evoo" x="522.7" y="355.6" width="4.0" height="4.0"/>
<rect class="s-evoo" x="528.7" y="360.0" width="4.0" height="4.0"/>
<rect class="s-evoo" x="523.7" y="343.0" width="4.0" height="4.0"/>
<rect class="s-evoo" x="527.2" y="353.3" width="4.0" height="4.0"/>
<rect class="s-evoo" x="509.5" y="355.8" width="4.0" height="4.0"/>
<rect class="s-evoo" x="535.0" y="344.7" width="4.0" height="4.0"/>
<rect class="s-evoo" x="532.1" y="350.5" width="4.0" height="4.0"/>
<rect class="s-evoo" x="532.6" y="346.6" width="4.0" height="4.0"/>
<rect class="s-evoo" x="531.4" y="354.3" width="4.0" height="4.0"/>
<rect class="s-evoo" x="524.7" y="348.0" width="4.0" height="4.0"/>
<rect class="s-evoo" x="522.7" y="354.5" width="4.0" height="4.0"/>
<rect class="s-evoo" x="536.9" y="349.1" width="4.0" height="4.0"/>
<rect class="s-evoo" x="531.9" y="350.6" width="4.0" height="4.0"/>
<rect class="s-evoo" x="541.0" y="357.8" width="4.0" height="4.0"/>
<rect class="s-evoo" x="530.9" y="352.8" width="4.0" height="4.0"/>
<rect class="s-evoo" x="519.3" y="339.8" width="4.0" height="4.0"/>
<rect class="s-evoo" x="531.4" y="345.4" width="4.0" height="4.0"/>
<rect class="s-evoo" x="518.1" y="356.8" width="4.0" height="4.0"/>
<rect class="s-evoo" x="526.6" y="343.1" width="4.0" height="4.0"/>
<rect class="s-evoo" x="534.5" y="348.1" width="4.0" height="4.0"/>
<rect class="s-evoo" x="532.8" y="342.9" width="4.0" height="4.0"/>
<rect class="s-evoo" x="510.8" y="346.2" width="4.0" height="4.0"/>
<rect class="s-evoo" x="531.1" y="337.0" width="4.0" height="4.0"/>
<rect class="s-evoo" x="514.3" y="356.2" width="4.0" height="4.0"/>
<rect class="s-evoo" x="515.6" y="347.1" width="4.0" height="4.0"/>
<rect class="s-evoo" x="517.1" y="359.9" width="4.0" height="4.0"/>
<rect class="s-evoo" x="530.5" y="344.2" width="4.0" height="4.0"/>
<rect class="s-evoo" x="531.6" y="336.0" width="4.0" height="4.0"/>
<rect class="s-evoo" x="524.4" y="350.1" width="4.0" height="4.0"/>
<rect class="s-evoo" x="522.0" y="344.0" width="4.0" height="4.0"/>
<rect class="s-evoo" x="518.5" y="337.9" width="4.0" height="4.0"/>
<rect class="s-evoo" x="528.1" y="343.7" width="4.0" height="4.0"/>
<rect class="s-evoo" x="529.2" y="355.4" width="4.0" height="4.0"/>
<rect class="s-evoo" x="517.8" y="342.2" width="4.0" height="4.0"/>
<rect class="s-evoo" x="524.6" y="354.4" width="4.0" height="4.0"/>
<rect class="s-evoo" x="512.0" y="349.6" width="4.0" height="4.0"/>
<rect class="s-evoo" x="514.9" y="359.5" width="4.0" height="4.0"/>
<rect class="s-evoo" x="527.4" y="339.5" width="4.0" height="4.0"/>
<rect class="s-evoo" x="518.9" y="350.4" width="4.0" height="4.0"/>
<rect class="s-evoo" x="519.5" y="350.5" width="4.0" height="4.0"/>
<rect class="s-evoo" x="527.5" y="351.2" width="4.0" height="4.0"/>
<rect class="s-evoo" x="520.2" y="359.2" width="4.0" height="4.0"/>
<rect class="s-evoo" x="531.9" y="348.0" width="4.0" height="4.0"/>
<rect class="s-evoo" x="522.8" y="345.7" width="4.0" height="4.0"/>
<rect class="s-evoo" x="511.1" y="347.8" width="4.0" height="4.0"/>
<rect class="s-evoo" x="524.3" y="347.6" width="4.0" height="4.0"/>
<rect class="s-evoo" x="515.3" y="330.1" width="4.0" height="4.0"/>
<rect class="s-evoo" x="508.0" y="355.4" width="4.0" height="4.0"/>
<rect class="s-evoo" x="507.3" y="353.6" width="4.0" height="4.0"/>
<rect class="s-evoo" x="530.4" y="349.3" width="4.0" height="4.0"/>
<rect class="s-evoo" x="523.9" y="355.2" width="4.0" height="4.0"/>
<rect class="s-evoo" x="523.5" y="349.6" width="4.0" height="4.0"/>
<rect class="s-evoo" x="531.8" y="349.6" width="4.0" height="4.0"/>
<rect class="s-evoo" x="541.8" y="342.7" width="4.0" height="4.0"/>
<rect class="s-evoo" x="520.3" y="348.2" width="4.0" height="4.0"/>
<rect class="s-evoo" x="525.4" y="345.6" width="4.0" height="4.0"/>
<rect class="s-evoo" x="541.0" y="354.1" width="4.0" height="4.0"/>
<rect class="s-evoo" x="507.2" y="349.8" width="4.0" height="4.0"/>
<rect class="s-evoo" x="530.0" y="357.6" width="4.0" height="4.0"/>
<rect class="s-evoo" x="527.6" y="344.9" width="4.0" height="4.0"/>
<rect class="s-evoo" x="531.2" y="341.4" width="4.0" height="4.0"/>
<rect class="s-evoo" x="524.8" y="342.2" width="4.0" height="4.0"/>
<rect class="s-evoo" x="536.1" y="354.5" width="4.0" height="4.0"/>
<rect class="s-evoo" x="543.2" y="348.0" width="4.0" height="4.0"/>
<rect class="s-evoo" x="523.0" y="346.8" width="4.0" height="4.0"/>
<rect class="s-evoo" x="534.2" y="342.9" width="4.0" height="4.0"/>
<rect class="s-evoo" x="530.3" y="347.7" width="4.0" height="4.0"/>
<rect class="s-evoo" x="530.4" y="351.5" width="4.0" height="4.0"/>
<rect class="s-evoo" x="516.8" y="347.1" width="4.0" height="4.0"/>
<rect class="s-evoo" x="508.3" y="344.0" width="4.0" height="4.0"/>
<rect class="s-evoo" x="518.6" y="356.5" width="4.0" height="4.0"/>
<rect class="s-evoo" x="520.1" y="351.6" width="4.0" height="4.0"/>
<rect class="s-evoo" x="521.8" y="341.5" width="4.0" height="4.0"/>
<rect class="s-evoo" x="529.2" y="362.3" width="4.0" height="4.0"/>
<rect class="s-evoo" x="529.4" y="357.9" width="4.0" height="4.0"/>
<rect class="s-evoo" x="529.3" y="356.2" width="4.0" height="4.0"/>
<rect class="s-evoo" x="542.4" y="339.2" width="4.0" height="4.0"/>
<rect class="s-evoo" x="517.9" y="340.3" width="4.0" height="4.0"/>
<rect class="s-evoo" x="524.2" y="347.5" width="4.0" height="4.0"/>
<rect class="s-evoo" x="517.3" y="353.0" width="4.0" height="4.0"/>
<rect class="s-evoo" x="540.7" y="358.9" width="4.0" height="4.0"/>
<rect class="s-evoo" x="540.0" y="350.8" width="4.0" height="4.0"/>
<rect class="s-evoo" x="528.0" y="359.4" width="4.0" height="4.0"/>
<rect class="s-evoo" x="532.9" y="356.4" width="4.0" height="4.0"/>
<rect class="s-evoo" x="521.2" y="347.3" width="4.0" height="4.0"/>
<rect class="s-evoo" x="518.2" y="358.2" width="4.0" height="4.0"/>
<rect class="s-evoo" x="467.0" y="335.4" width="4.0" height="4.0"/>
<rect class="s-evoo" x="502.0" y="351.0" width="4.0" height="4.0"/>
<circle class="c-evoo" cx="528.3" cy="357.8" r="2.3"/>
<circle class="c-evoo" cx="515.9" cy="362.2" r="2.3"/>
<circle class="c-evoo" cx="517.9" cy="361.8" r="2.3"/>
<circle class="c-evoo" cx="502.3" cy="355.3" r="2.3"/>
<circle class="c-evoo" cx="517.3" cy="365.7" r="2.3"/>
<circle class="c-evoo" cx="517.8" cy="356.3" r="2.3"/>
<circle class="c-evoo" cx="508.4" cy="356.3" r="2.3"/>
<circle class="c-evoo" cx="526.7" cy="357.2" r="2.3"/>
<circle class="c-evoo" cx="524.1" cy="356.3" r="2.3"/>
<circle class="c-evoo" cx="510.2" cy="358.9" r="2.3"/>
<circle class="c-evoo" cx="528.1" cy="358.6" r="2.3"/>
<circle class="c-evoo" cx="516.5" cy="359.0" r="2.3"/>
<circle class="c-evoo" cx="513.9" cy="366.8" r="2.3"/>
<circle class="c-evoo" cx="513.1" cy="360.9" r="2.3"/>
<circle class="c-evoo" cx="457.0" cy="354.0" r="2.3"/>
<circle class="c-evoo" cx="502.3" cy="381.6" r="2.3"/>
<circle class="c-evoo" cx="521.0" cy="374.7" r="2.3"/>
<rect class="s-corn" x="321.2" y="313.2" width="4.0" height="4.0"/>
<rect class="s-corn" x="326.4" y="308.1" width="4.0" height="4.0"/>
<rect class="s-corn" x="313.8" y="308.3" width="4.0" height="4.0"/>
<rect class="s-corn" x="331.1" y="306.4" width="4.0" height="4.0"/>
<rect class="s-corn" x="314.1" y="313.7" width="4.0" height="4.0"/>
<rect class="s-corn" x="340.0" y="306.3" width="4.0" height="4.0"/>
<rect class="s-corn" x="333.5" y="315.3" width="4.0" height="4.0"/>
<rect class="s-corn" x="328.1" y="325.3" width="4.0" height="4.0"/>
<rect class="s-corn" x="317.7" y="312.9" width="4.0" height="4.0"/>
<rect class="s-corn" x="322.3" y="318.4" width="4.0" height="4.0"/>
<rect class="s-corn" x="325.7" y="315.8" width="4.0" height="4.0"/>
<rect class="s-corn" x="330.9" y="311.7" width="4.0" height="4.0"/>
<rect class="s-corn" x="326.0" y="309.0" width="4.0" height="4.0"/>
<rect class="s-corn" x="335.1" y="320.5" width="4.0" height="4.0"/>
<rect class="s-corn" x="338.3" y="301.3" width="4.0" height="4.0"/>
<rect class="s-corn" x="319.1" y="313.2" width="4.0" height="4.0"/>
<rect class="s-corn" x="333.0" y="310.3" width="4.0" height="4.0"/>
<rect class="s-corn" x="317.7" y="329.6" width="4.0" height="4.0"/>
<rect class="s-corn" x="324.6" y="314.7" width="4.0" height="4.0"/>
<rect class="s-corn" x="318.0" y="329.6" width="4.0" height="4.0"/>
<rect class="s-corn" x="328.7" y="311.4" width="4.0" height="4.0"/>
<rect class="s-corn" x="322.9" y="313.6" width="4.0" height="4.0"/>
<rect class="s-corn" x="328.4" y="315.0" width="4.0" height="4.0"/>
<rect class="s-corn" x="319.2" y="325.7" width="4.0" height="4.0"/>
<rect class="s-corn" x="317.7" y="324.7" width="4.0" height="4.0"/>
<rect class="s-corn" x="330.8" y="302.4" width="4.0" height="4.0"/>
<rect class="s-corn" x="332.7" y="316.8" width="4.0" height="4.0"/>
<rect class="s-corn" x="318.8" y="330.9" width="4.0" height="4.0"/>
<rect class="s-corn" x="334.9" y="296.1" width="4.0" height="4.0"/>
<rect class="s-corn" x="333.0" y="308.5" width="4.0" height="4.0"/>
<rect class="s-corn" x="312.3" y="319.3" width="4.0" height="4.0"/>
<rect class="s-corn" x="314.6" y="310.8" width="4.0" height="4.0"/>
<rect class="s-corn" x="325.3" y="310.6" width="4.0" height="4.0"/>
<rect class="s-corn" x="323.1" y="323.5" width="4.0" height="4.0"/>
<rect class="s-corn" x="334.2" y="326.2" width="4.0" height="4.0"/>
<rect class="s-corn" x="327.9" y="315.8" width="4.0" height="4.0"/>
<rect class="s-corn" x="318.4" y="306.6" width="4.0" height="4.0"/>
<rect class="s-corn" x="316.9" y="313.5" width="4.0" height="4.0"/>
<rect class="s-corn" x="327.3" y="308.0" width="4.0" height="4.0"/>
<rect class="s-corn" x="330.9" y="315.7" width="4.0" height="4.0"/>
<rect class="s-corn" x="331.1" y="322.2" width="4.0" height="4.0"/>
<rect class="s-corn" x="334.0" y="310.5" width="4.0" height="4.0"/>
<rect class="s-corn" x="319.3" y="314.0" width="4.0" height="4.0"/>
<rect class="s-corn" x="330.8" y="309.2" width="4.0" height="4.0"/>
<rect class="s-corn" x="329.9" y="317.0" width="4.0" height="4.0"/>
<rect class="s-corn" x="321.6" y="306.4" width="4.0" height="4.0"/>
<rect class="s-corn" x="321.7" y="317.8" width="4.0" height="4.0"/>
<rect class="s-corn" x="315.3" y="313.8" width="4.0" height="4.0"/>
<rect class="s-corn" x="319.6" y="307.7" width="4.0" height="4.0"/>
<rect class="s-corn" x="315.1" y="299.4" width="4.0" height="4.0"/>
<rect class="s-corn" x="327.8" y="315.5" width="4.0" height="4.0"/>
<rect class="s-corn" x="321.1" y="311.5" width="4.0" height="4.0"/>
<rect class="s-corn" x="331.8" y="314.3" width="4.0" height="4.0"/>
<rect class="s-corn" x="327.2" y="312.4" width="4.0" height="4.0"/>
<rect class="s-corn" x="329.7" y="310.7" width="4.0" height="4.0"/>
<rect class="s-corn" x="316.2" y="319.2" width="4.0" height="4.0"/>
<rect class="s-corn" x="329.1" y="305.6" width="4.0" height="4.0"/>
<rect class="s-corn" x="326.0" y="315.1" width="4.0" height="4.0"/>
<rect class="s-corn" x="327.2" y="339.9" width="4.0" height="4.0"/>
<rect class="s-corn" x="326.2" y="313.5" width="4.0" height="4.0"/>
<rect class="s-corn" x="321.1" y="308.6" width="4.0" height="4.0"/>
<rect class="s-corn" x="323.0" y="304.4" width="4.0" height="4.0"/>
<rect class="s-corn" x="325.1" y="317.4" width="4.0" height="4.0"/>
<rect class="s-corn" x="333.8" y="332.6" width="4.0" height="4.0"/>
<rect class="s-corn" x="325.4" y="306.1" width="4.0" height="4.0"/>
<rect class="s-corn" x="315.6" y="324.9" width="4.0" height="4.0"/>
<rect class="s-corn" x="319.9" y="313.4" width="4.0" height="4.0"/>
<rect class="s-corn" x="330.5" y="314.8" width="4.0" height="4.0"/>
<rect class="s-corn" x="325.9" y="316.0" width="4.0" height="4.0"/>
<rect class="s-corn" x="309.4" y="311.9" width="4.0" height="4.0"/>
<rect class="s-corn" x="329.4" y="302.9" width="4.0" height="4.0"/>
<rect class="s-corn" x="312.7" y="318.1" width="4.0" height="4.0"/>
<rect class="s-corn" x="322.3" y="317.0" width="4.0" height="4.0"/>
<rect class="s-corn" x="309.8" y="313.1" width="4.0" height="4.0"/>
<rect class="s-corn" x="317.4" y="319.8" width="4.0" height="4.0"/>
<rect class="s-corn" x="338.2" y="310.0" width="4.0" height="4.0"/>
<rect class="s-corn" x="331.4" y="305.8" width="4.0" height="4.0"/>
<rect class="s-corn" x="322.1" y="316.6" width="4.0" height="4.0"/>
<rect class="s-corn" x="319.3" y="324.1" width="4.0" height="4.0"/>
<rect class="s-corn" x="327.2" y="302.6" width="4.0" height="4.0"/>
<rect class="s-corn" x="313.8" y="308.4" width="4.0" height="4.0"/>
<rect class="s-corn" x="307.8" y="322.8" width="4.0" height="4.0"/>
<rect class="s-corn" x="321.3" y="308.5" width="4.0" height="4.0"/>
<rect class="s-corn" x="324.5" y="310.1" width="4.0" height="4.0"/>
<rect class="s-corn" x="334.5" y="324.9" width="4.0" height="4.0"/>
<rect class="s-corn" x="330.4" y="318.2" width="4.0" height="4.0"/>
<rect class="s-corn" x="331.9" y="317.1" width="4.0" height="4.0"/>
<rect class="s-corn" x="323.8" y="322.4" width="4.0" height="4.0"/>
<rect class="s-corn" x="326.6" y="318.4" width="4.0" height="4.0"/>
<rect class="s-corn" x="336.4" y="329.8" width="4.0" height="4.0"/>
<circle class="c-corn" cx="328.6" cy="320.2" r="2.3"/>
<circle class="c-corn" cx="320.3" cy="314.0" r="2.3"/>
<circle class="c-corn" cx="322.7" cy="309.0" r="2.3"/>
<circle class="c-corn" cx="323.1" cy="309.3" r="2.3"/>
<circle class="c-corn" cx="326.0" cy="322.3" r="2.3"/>
<circle class="c-corn" cx="328.8" cy="316.6" r="2.3"/>
<circle class="c-corn" cx="330.1" cy="314.6" r="2.3"/>
<circle class="c-corn" cx="319.6" cy="301.6" r="2.3"/>
<circle class="c-corn" cx="336.0" cy="318.6" r="2.3"/>
<circle class="c-corn" cx="309.6" cy="318.7" r="2.3"/>
<circle class="c-corn" cx="355.0" cy="307.7" r="2.3"/>
<circle class="c-corn" cx="353.8" cy="312.4" r="2.3"/>
<circle class="c-corn" cx="358.5" cy="312.4" r="2.3"/>
<circle class="c-corn" cx="363.3" cy="324.3" r="2.3"/>
<circle class="c-corn" cx="334.5" cy="341.0" r="2.3"/>
<circle class="c-corn" cx="332.3" cy="298.5" r="2.3"/>
<circle class="c-corn" cx="309.0" cy="301.5" r="2.3"/>
<circle class="c-corn" cx="340.7" cy="316.0" r="2.3"/>
<rect class="s-pom" x="340.6" y="389.3" width="4.0" height="4.0"/>
<rect class="s-pom" x="354.1" y="376.4" width="4.0" height="4.0"/>
<rect class="s-pom" x="346.0" y="366.5" width="4.0" height="4.0"/>
<rect class="s-pom" x="342.0" y="371.5" width="4.0" height="4.0"/>
<rect class="s-pom" x="351.3" y="378.7" width="4.0" height="4.0"/>
<rect class="s-pom" x="356.6" y="381.6" width="4.0" height="4.0"/>
<rect class="s-pom" x="348.8" y="384.1" width="4.0" height="4.0"/>
<rect class="s-pom" x="360.5" y="378.0" width="4.0" height="4.0"/>
<rect class="s-pom" x="351.0" y="377.3" width="4.0" height="4.0"/>
<rect class="s-pom" x="343.9" y="374.8" width="4.0" height="4.0"/>
<rect class="s-pom" x="346.2" y="372.5" width="4.0" height="4.0"/>
<rect class="s-pom" x="348.2" y="378.0" width="4.0" height="4.0"/>
<rect class="s-pom" x="352.2" y="386.1" width="4.0" height="4.0"/>
<rect class="s-pom" x="364.3" y="377.6" width="4.0" height="4.0"/>
<rect class="s-pom" x="348.9" y="383.6" width="4.0" height="4.0"/>
<rect class="s-pom" x="345.6" y="386.9" width="4.0" height="4.0"/>
<rect class="s-pom" x="355.2" y="380.4" width="4.0" height="4.0"/>
<rect class="s-pom" x="358.7" y="376.2" width="4.0" height="4.0"/>
<rect class="s-pom" x="348.2" y="377.7" width="4.0" height="4.0"/>
<rect class="s-pom" x="348.4" y="372.1" width="4.0" height="4.0"/>
<rect class="s-pom" x="349.2" y="386.1" width="4.0" height="4.0"/>
<rect class="s-pom" x="353.7" y="386.6" width="4.0" height="4.0"/>
<rect class="s-pom" x="353.6" y="385.7" width="4.0" height="4.0"/>
<rect class="s-pom" x="342.8" y="378.2" width="4.0" height="4.0"/>
<rect class="s-pom" x="337.7" y="395.0" width="4.0" height="4.0"/>
<rect class="s-pom" x="365.1" y="380.0" width="4.0" height="4.0"/>
<rect class="s-pom" x="346.6" y="383.5" width="4.0" height="4.0"/>
<rect class="s-pom" x="343.4" y="388.1" width="4.0" height="4.0"/>
<rect class="s-pom" x="366.7" y="370.5" width="4.0" height="4.0"/>
<rect class="s-pom" x="345.0" y="387.6" width="4.0" height="4.0"/>
<rect class="s-pom" x="359.8" y="384.8" width="4.0" height="4.0"/>
<rect class="s-pom" x="352.0" y="379.7" width="4.0" height="4.0"/>
<rect class="s-pom" x="350.9" y="376.9" width="4.0" height="4.0"/>
<rect class="s-pom" x="347.1" y="377.5" width="4.0" height="4.0"/>
<rect class="s-pom" x="361.2" y="368.7" width="4.0" height="4.0"/>
<rect class="s-pom" x="357.0" y="371.3" width="4.0" height="4.0"/>
<rect class="s-pom" x="339.5" y="367.5" width="4.0" height="4.0"/>
<rect class="s-pom" x="343.5" y="383.1" width="4.0" height="4.0"/>
<rect class="s-pom" x="346.7" y="380.3" width="4.0" height="4.0"/>
<rect class="s-pom" x="343.1" y="381.3" width="4.0" height="4.0"/>
<rect class="s-pom" x="338.7" y="382.0" width="4.0" height="4.0"/>
<rect class="s-pom" x="346.6" y="373.3" width="4.0" height="4.0"/>
<rect class="s-pom" x="358.8" y="390.0" width="4.0" height="4.0"/>
<rect class="s-pom" x="346.2" y="388.8" width="4.0" height="4.0"/>
<rect class="s-pom" x="352.8" y="386.9" width="4.0" height="4.0"/>
<rect class="s-pom" x="355.5" y="381.5" width="4.0" height="4.0"/>
<rect class="s-pom" x="346.5" y="388.9" width="4.0" height="4.0"/>
<rect class="s-pom" x="344.9" y="380.4" width="4.0" height="4.0"/>
<rect class="s-pom" x="354.9" y="369.1" width="4.0" height="4.0"/>
<rect class="s-pom" x="354.7" y="377.8" width="4.0" height="4.0"/>
<rect class="s-pom" x="348.2" y="383.5" width="4.0" height="4.0"/>
<rect class="s-pom" x="350.5" y="381.8" width="4.0" height="4.0"/>
<rect class="s-pom" x="345.4" y="375.6" width="4.0" height="4.0"/>
<rect class="s-pom" x="347.9" y="378.1" width="4.0" height="4.0"/>
<rect class="s-pom" x="343.2" y="388.4" width="4.0" height="4.0"/>
<rect class="s-pom" x="362.0" y="371.1" width="4.0" height="4.0"/>
<rect class="s-pom" x="347.3" y="386.0" width="4.0" height="4.0"/>
<rect class="s-pom" x="332.9" y="386.2" width="4.0" height="4.0"/>
<rect class="s-pom" x="350.6" y="384.8" width="4.0" height="4.0"/>
<rect class="s-pom" x="357.2" y="388.4" width="4.0" height="4.0"/>
<circle class="c-pom" cx="350.2" cy="392.0" r="2.3"/>
<circle class="c-pom" cx="340.3" cy="380.3" r="2.3"/>
<circle class="c-pom" cx="352.6" cy="380.9" r="2.3"/>
<circle class="c-pom" cx="342.8" cy="379.8" r="2.3"/>
<circle class="c-pom" cx="353.0" cy="376.1" r="2.3"/>
<circle class="c-pom" cx="353.9" cy="391.5" r="2.3"/>
<circle class="c-pom" cx="336.5" cy="387.8" r="2.3"/>
<circle class="c-pom" cx="355.0" cy="377.2" r="2.3"/>
<circle class="c-pom" cx="353.2" cy="382.5" r="2.3"/>
<circle class="c-pom" cx="353.8" cy="389.9" r="2.3"/>
<circle class="c-pom" cx="353.2" cy="368.2" r="2.3"/>
<circle class="c-pom" cx="354.6" cy="395.9" r="2.3"/>
<circle class="c-pom" cx="342.4" cy="401.4" r="2.3"/>
<circle class="c-pom" cx="347.1" cy="376.3" r="2.3"/>
<rect class="s-soy" x="372.0" y="392.6" width="4.0" height="4.0"/>
<rect class="s-soy" x="368.8" y="406.7" width="4.0" height="4.0"/>
<rect class="s-soy" x="372.4" y="400.8" width="4.0" height="4.0"/>
<rect class="s-soy" x="371.3" y="405.3" width="4.0" height="4.0"/>
<rect class="s-soy" x="379.0" y="397.6" width="4.0" height="4.0"/>
<rect class="s-soy" x="376.5" y="392.7" width="4.0" height="4.0"/>
<rect class="s-soy" x="371.5" y="390.2" width="4.0" height="4.0"/>
<rect class="s-soy" x="368.3" y="421.0" width="4.0" height="4.0"/>
<rect class="s-soy" x="366.3" y="407.9" width="4.0" height="4.0"/>
<rect class="s-soy" x="373.2" y="400.5" width="4.0" height="4.0"/>
<rect class="s-soy" x="358.8" y="400.1" width="4.0" height="4.0"/>
<rect class="s-soy" x="362.7" y="393.8" width="4.0" height="4.0"/>
<rect class="s-soy" x="367.0" y="395.9" width="4.0" height="4.0"/>
<rect class="s-soy" x="382.5" y="410.9" width="4.0" height="4.0"/>
<rect class="s-soy" x="360.8" y="395.8" width="4.0" height="4.0"/>
<rect class="s-soy" x="366.6" y="399.5" width="4.0" height="4.0"/>
<rect class="s-soy" x="361.2" y="387.9" width="4.0" height="4.0"/>
<rect class="s-soy" x="371.0" y="392.9" width="4.0" height="4.0"/>
<rect class="s-soy" x="377.9" y="396.3" width="4.0" height="4.0"/>
<rect class="s-soy" x="372.7" y="395.0" width="4.0" height="4.0"/>
<rect class="s-soy" x="376.3" y="407.1" width="4.0" height="4.0"/>
<rect class="s-soy" x="371.0" y="394.7" width="4.0" height="4.0"/>
<rect class="s-soy" x="375.0" y="399.2" width="4.0" height="4.0"/>
<rect class="s-soy" x="377.3" y="399.1" width="4.0" height="4.0"/>
<rect class="s-soy" x="372.1" y="404.2" width="4.0" height="4.0"/>
<rect class="s-soy" x="366.5" y="389.3" width="4.0" height="4.0"/>
<rect class="s-soy" x="374.2" y="397.0" width="4.0" height="4.0"/>
<rect class="s-soy" x="375.1" y="404.3" width="4.0" height="4.0"/>
<rect class="s-soy" x="373.7" y="394.2" width="4.0" height="4.0"/>
<rect class="s-soy" x="381.0" y="381.8" width="4.0" height="4.0"/>
<rect class="s-soy" x="366.8" y="389.4" width="4.0" height="4.0"/>
<rect class="s-soy" x="383.5" y="395.8" width="4.0" height="4.0"/>
<rect class="s-soy" x="370.2" y="402.8" width="4.0" height="4.0"/>
<rect class="s-soy" x="379.0" y="405.5" width="4.0" height="4.0"/>
<rect class="s-soy" x="371.0" y="399.7" width="4.0" height="4.0"/>
<rect class="s-soy" x="364.9" y="400.4" width="4.0" height="4.0"/>
<rect class="s-soy" x="369.8" y="382.5" width="4.0" height="4.0"/>
<rect class="s-soy" x="372.8" y="397.6" width="4.0" height="4.0"/>
<rect class="s-soy" x="376.3" y="403.0" width="4.0" height="4.0"/>
<rect class="s-soy" x="372.0" y="397.2" width="4.0" height="4.0"/>
<rect class="s-soy" x="381.3" y="400.0" width="4.0" height="4.0"/>
<rect class="s-soy" x="377.7" y="401.6" width="4.0" height="4.0"/>
<rect class="s-soy" x="379.6" y="405.6" width="4.0" height="4.0"/>
<rect class="s-soy" x="364.6" y="402.5" width="4.0" height="4.0"/>
<rect class="s-soy" x="381.2" y="408.4" width="4.0" height="4.0"/>
<rect class="s-soy" x="369.5" y="410.5" width="4.0" height="4.0"/>
<rect class="s-soy" x="377.0" y="403.4" width="4.0" height="4.0"/>
<rect class="s-soy" x="367.4" y="401.7" width="4.0" height="4.0"/>
<rect class="s-soy" x="374.6" y="383.6" width="4.0" height="4.0"/>
<rect class="s-soy" x="368.5" y="387.7" width="4.0" height="4.0"/>
<rect class="s-soy" x="360.5" y="400.1" width="4.0" height="4.0"/>
<rect class="s-soy" x="376.9" y="398.5" width="4.0" height="4.0"/>
<rect class="s-soy" x="362.4" y="389.1" width="4.0" height="4.0"/>
<rect class="s-soy" x="376.8" y="397.1" width="4.0" height="4.0"/>
<rect class="s-soy" x="373.3" y="396.5" width="4.0" height="4.0"/>
<rect class="s-soy" x="372.5" y="393.8" width="4.0" height="4.0"/>
<rect class="s-soy" x="367.4" y="388.4" width="4.0" height="4.0"/>
<rect class="s-soy" x="371.8" y="398.1" width="4.0" height="4.0"/>
<rect class="s-soy" x="378.5" y="415.5" width="4.0" height="4.0"/>
<rect class="s-soy" x="372.7" y="378.1" width="4.0" height="4.0"/>
<rect class="s-soy" x="364.2" y="408.2" width="4.0" height="4.0"/>
<rect class="s-soy" x="374.5" y="397.4" width="4.0" height="4.0"/>
<rect class="s-soy" x="365.9" y="402.1" width="4.0" height="4.0"/>
<rect class="s-soy" x="373.5" y="406.5" width="4.0" height="4.0"/>
<rect class="s-soy" x="379.9" y="410.1" width="4.0" height="4.0"/>
<rect class="s-soy" x="377.7" y="390.2" width="4.0" height="4.0"/>
<rect class="s-soy" x="375.1" y="390.4" width="4.0" height="4.0"/>
<rect class="s-soy" x="367.3" y="392.9" width="4.0" height="4.0"/>
<rect class="s-soy" x="364.4" y="392.5" width="4.0" height="4.0"/>
<rect class="s-soy" x="380.5" y="397.9" width="4.0" height="4.0"/>
<rect class="s-soy" x="381.4" y="399.6" width="4.0" height="4.0"/>
<rect class="s-soy" x="360.6" y="393.8" width="4.0" height="4.0"/>
<rect class="s-soy" x="381.6" y="406.7" width="4.0" height="4.0"/>
<rect class="s-soy" x="370.5" y="396.9" width="4.0" height="4.0"/>
<rect class="s-soy" x="379.0" y="402.2" width="4.0" height="4.0"/>
<rect class="s-soy" x="370.3" y="407.0" width="4.0" height="4.0"/>
<rect class="s-soy" x="371.9" y="391.3" width="4.0" height="4.0"/>
<rect class="s-soy" x="362.5" y="383.8" width="4.0" height="4.0"/>
<rect class="s-soy" x="386.0" y="400.2" width="4.0" height="4.0"/>
<rect class="s-soy" x="382.0" y="400.0" width="4.0" height="4.0"/>
<rect class="s-soy" x="372.3" y="400.3" width="4.0" height="4.0"/>
<rect class="s-soy" x="373.2" y="389.0" width="4.0" height="4.0"/>
<rect class="s-soy" x="371.4" y="405.9" width="4.0" height="4.0"/>
<rect class="s-soy" x="385.1" y="395.7" width="4.0" height="4.0"/>
<rect class="s-soy" x="374.2" y="403.9" width="4.0" height="4.0"/>
<circle class="c-soy" cx="368.6" cy="405.3" r="2.3"/>
<circle class="c-soy" cx="377.9" cy="405.4" r="2.3"/>
<circle class="c-soy" cx="368.1" cy="394.8" r="2.3"/>
<circle class="c-soy" cx="381.6" cy="408.4" r="2.3"/>
<circle class="c-soy" cx="387.5" cy="389.9" r="2.3"/>
<circle class="c-soy" cx="385.2" cy="398.9" r="2.3"/>
<circle class="c-soy" cx="375.3" cy="398.7" r="2.3"/>
<circle class="c-soy" cx="381.0" cy="408.3" r="2.3"/>
<circle class="c-soy" cx="371.6" cy="405.1" r="2.3"/>
<circle class="c-soy" cx="378.1" cy="396.0" r="2.3"/>
<circle class="c-soy" cx="382.6" cy="394.9" r="2.3"/>
<circle class="c-soy" cx="374.0" cy="400.5" r="2.3"/>
<circle class="c-soy" cx="391.0" cy="389.0" r="2.3"/>
<circle class="c-soy" cx="389.0" cy="397.0" r="2.3"/>
<rect class="s-sun" x="402.5" y="425.5" width="4.0" height="4.0"/>
<rect class="s-sun" x="387.7" y="435.9" width="4.0" height="4.0"/>
<rect class="s-sun" x="391.8" y="425.5" width="4.0" height="4.0"/>
<rect class="s-sun" x="390.4" y="441.2" width="4.0" height="4.0"/>
<rect class="s-sun" x="382.1" y="428.5" width="4.0" height="4.0"/>
<rect class="s-sun" x="402.8" y="433.1" width="4.0" height="4.0"/>
<rect class="s-sun" x="387.2" y="425.2" width="4.0" height="4.0"/>
<rect class="s-sun" x="398.5" y="433.9" width="4.0" height="4.0"/>
<rect class="s-sun" x="389.6" y="425.3" width="4.0" height="4.0"/>
<rect class="s-sun" x="384.0" y="419.3" width="4.0" height="4.0"/>
<rect class="s-sun" x="394.5" y="434.3" width="4.0" height="4.0"/>
<rect class="s-sun" x="389.0" y="436.0" width="4.0" height="4.0"/>
<rect class="s-sun" x="387.9" y="433.2" width="4.0" height="4.0"/>
<rect class="s-sun" x="379.3" y="437.0" width="4.0" height="4.0"/>
<rect class="s-sun" x="403.8" y="437.1" width="4.0" height="4.0"/>
<rect class="s-sun" x="391.8" y="434.1" width="4.0" height="4.0"/>
<rect class="s-sun" x="392.5" y="431.2" width="4.0" height="4.0"/>
<rect class="s-sun" x="391.9" y="434.1" width="4.0" height="4.0"/>
<rect class="s-sun" x="390.0" y="429.7" width="4.0" height="4.0"/>
<rect class="s-sun" x="389.1" y="436.3" width="4.0" height="4.0"/>
<rect class="s-sun" x="400.6" y="436.5" width="4.0" height="4.0"/>
<rect class="s-sun" x="395.2" y="441.8" width="4.0" height="4.0"/>
<rect class="s-sun" x="386.9" y="447.5" width="4.0" height="4.0"/>
<rect class="s-sun" x="379.7" y="436.1" width="4.0" height="4.0"/>
<rect class="s-sun" x="393.0" y="433.4" width="4.0" height="4.0"/>
<rect class="s-sun" x="382.4" y="439.8" width="4.0" height="4.0"/>
<rect class="s-sun" x="393.8" y="431.0" width="4.0" height="4.0"/>
<rect class="s-sun" x="398.9" y="431.3" width="4.0" height="4.0"/>
<rect class="s-sun" x="392.8" y="437.4" width="4.0" height="4.0"/>
<rect class="s-sun" x="391.7" y="433.1" width="4.0" height="4.0"/>
<rect class="s-sun" x="389.7" y="425.4" width="4.0" height="4.0"/>
<rect class="s-sun" x="392.3" y="425.2" width="4.0" height="4.0"/>
<rect class="s-sun" x="393.8" y="428.1" width="4.0" height="4.0"/>
<rect class="s-sun" x="388.6" y="429.3" width="4.0" height="4.0"/>
<rect class="s-sun" x="384.4" y="436.0" width="4.0" height="4.0"/>
<rect class="s-sun" x="395.9" y="411.0" width="4.0" height="4.0"/>
<rect class="s-sun" x="392.3" y="426.5" width="4.0" height="4.0"/>
<rect class="s-sun" x="395.7" y="447.2" width="4.0" height="4.0"/>
<rect class="s-sun" x="389.3" y="429.2" width="4.0" height="4.0"/>
<rect class="s-sun" x="386.8" y="432.9" width="4.0" height="4.0"/>
<rect class="s-sun" x="396.6" y="432.3" width="4.0" height="4.0"/>
<rect class="s-sun" x="392.8" y="421.3" width="4.0" height="4.0"/>
<rect class="s-sun" x="391.6" y="422.4" width="4.0" height="4.0"/>
<rect class="s-sun" x="389.9" y="442.9" width="4.0" height="4.0"/>
<rect class="s-sun" x="392.7" y="423.9" width="4.0" height="4.0"/>
<rect class="s-sun" x="385.3" y="417.6" width="4.0" height="4.0"/>
<rect class="s-sun" x="389.0" y="447.2" width="4.0" height="4.0"/>
<rect class="s-sun" x="390.5" y="428.3" width="4.0" height="4.0"/>
<rect class="s-sun" x="385.6" y="426.3" width="4.0" height="4.0"/>
<rect class="s-sun" x="398.2" y="438.3" width="4.0" height="4.0"/>
<rect class="s-sun" x="390.9" y="423.4" width="4.0" height="4.0"/>
<rect class="s-sun" x="396.4" y="448.9" width="4.0" height="4.0"/>
<rect class="s-sun" x="410.2" y="441.6" width="4.0" height="4.0"/>
<rect class="s-sun" x="392.3" y="435.8" width="4.0" height="4.0"/>
<rect class="s-sun" x="389.8" y="423.7" width="4.0" height="4.0"/>
<rect class="s-sun" x="387.9" y="430.3" width="4.0" height="4.0"/>
<rect class="s-sun" x="396.3" y="442.2" width="4.0" height="4.0"/>
<rect class="s-sun" x="400.3" y="433.9" width="4.0" height="4.0"/>
<rect class="s-sun" x="378.1" y="442.5" width="4.0" height="4.0"/>
<rect class="s-sun" x="395.1" y="424.5" width="4.0" height="4.0"/>
<rect class="s-sun" x="398.0" y="407.0" width="4.0" height="4.0"/>
<circle class="c-sun" cx="403.8" cy="436.2" r="2.3"/>
<circle class="c-sun" cx="393.3" cy="445.7" r="2.3"/>
<circle class="c-sun" cx="396.9" cy="433.1" r="2.3"/>
<circle class="c-sun" cx="412.0" cy="420.6" r="2.3"/>
<circle class="c-sun" cx="395.1" cy="424.0" r="2.3"/>
<circle class="c-sun" cx="403.9" cy="425.1" r="2.3"/>
<circle class="c-sun" cx="396.3" cy="435.1" r="2.3"/>
<circle class="c-sun" cx="393.4" cy="431.7" r="2.3"/>
<circle class="c-sun" cx="392.8" cy="427.0" r="2.3"/>
<circle class="c-sun" cx="390.2" cy="433.8" r="2.3"/>
<circle class="c-sun" cx="393.4" cy="424.4" r="2.3"/>
<circle class="c-sun" cx="392.6" cy="448.8" r="2.3"/>
<circle class="c-sun" cx="388.0" cy="428.0" r="2.3"/>
<circle class="c-sun" cx="391.9" cy="431.9" r="2.3"/>
<circle class="c-sun" cx="399.7" cy="426.7" r="2.3"/>
<circle class="c-sun" cx="396.8" cy="435.9" r="2.3"/>
<circle class="c-sun" cx="410.0" cy="416.0" r="2.3"/>
</g>
<rect x="306.4" y="296.8" width="239.6" height="155.2" fill="none" stroke="#1a1a1a" stroke-width="0.8"/>
<line x1="320.0" y1="452.0" x2="320.0" y2="454.6" stroke="#1a1a1a" stroke-width="0.7"/>
<text x="320.0" y="462.5" font-size="8.5" text-anchor="middle" >−10</text>
<line x1="358.7" y1="452.0" x2="358.7" y2="454.6" stroke="#1a1a1a" stroke-width="0.7"/>
<text x="358.7" y="462.5" font-size="8.5" text-anchor="middle" >−5</text>
<line x1="397.4" y1="452.0" x2="397.4" y2="454.6" stroke="#1a1a1a" stroke-width="0.7"/>
<text x="397.4" y="462.5" font-size="8.5" text-anchor="middle" >0</text>
<line x1="436.1" y1="452.0" x2="436.1" y2="454.6" stroke="#1a1a1a" stroke-width="0.7"/>
<text x="436.1" y="462.5" font-size="8.5" text-anchor="middle" >5</text>
<line x1="474.8" y1="452.0" x2="474.8" y2="454.6" stroke="#1a1a1a" stroke-width="0.7"/>
<text x="474.8" y="462.5" font-size="8.5" text-anchor="middle" >10</text>
<line x1="513.5" y1="452.0" x2="513.5" y2="454.6" stroke="#1a1a1a" stroke-width="0.7"/>
<text x="513.5" y="462.5" font-size="8.5" text-anchor="middle" >15</text>
<line x1="303.8" y1="434.8" x2="306.4" y2="434.8" stroke="#1a1a1a" stroke-width="0.7"/>
<text x="301.6" y="437.7" font-size="8.5" text-anchor="end" >−7.5</text>
<line x1="303.8" y1="415.7" x2="306.4" y2="415.7" stroke="#1a1a1a" stroke-width="0.7"/>
<text x="301.6" y="418.6" font-size="8.5" text-anchor="end" >−5.0</text>
<line x1="303.8" y1="396.5" x2="306.4" y2="396.5" stroke="#1a1a1a" stroke-width="0.7"/>
<text x="301.6" y="399.4" font-size="8.5" text-anchor="end" >−2.5</text>
<line x1="303.8" y1="377.4" x2="306.4" y2="377.4" stroke="#1a1a1a" stroke-width="0.7"/>
<text x="301.6" y="380.3" font-size="8.5" text-anchor="end" >0.0</text>
<line x1="303.8" y1="358.2" x2="306.4" y2="358.2" stroke="#1a1a1a" stroke-width="0.7"/>
<text x="301.6" y="361.1" font-size="8.5" text-anchor="end" >2.5</text>
<line x1="303.8" y1="339.1" x2="306.4" y2="339.1" stroke="#1a1a1a" stroke-width="0.7"/>
<text x="301.6" y="342.0" font-size="8.5" text-anchor="end" >5.0</text>
<line x1="303.8" y1="319.9" x2="306.4" y2="319.9" stroke="#1a1a1a" stroke-width="0.7"/>
<text x="301.6" y="322.8" font-size="8.5" text-anchor="end" >7.5</text>
<line x1="303.8" y1="300.8" x2="306.4" y2="300.8" stroke="#1a1a1a" stroke-width="0.7"/>
<text x="301.6" y="303.7" font-size="8.5" text-anchor="end" >10.0</text>
<text x="425.9" y="473.4" font-size="8.6" text-anchor="middle" >Canonical Variable 1</text>
<text transform="translate(281.0,374.8) rotate(-90)" font-size="8.7" text-anchor="middle">Canonical Variable 2</text>
<text x="424.4" y="292.2" font-size="11.8" text-anchor="middle" >Achaia</text>
<text x="279.8" y="292.0" font-size="12.7" text-anchor="start" >d)</text>
</svg>
</body></html>
